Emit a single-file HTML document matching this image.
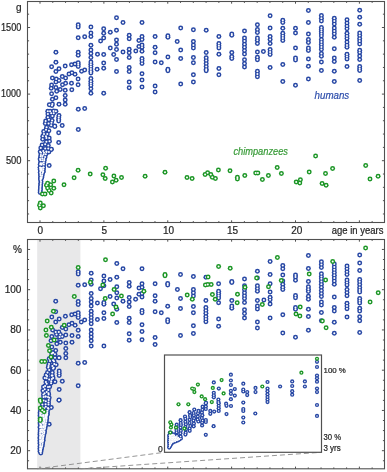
<!DOCTYPE html>
<html><head><meta charset="utf-8"><style>
html,body{margin:0;padding:0;background:#fff;width:387px;height:472px;overflow:hidden}
svg{display:block}
</style></head><body>
<svg width="387" height="472" viewBox="0 0 387 472"><rect x="37.2" y="240" width="43.2" height="228.5" fill="#e8e8e9"/><g fill="none" stroke="#505050" stroke-width="1.1"><rect x="27.5" y="1.5" width="357" height="221"/><rect x="27.5" y="239.5" width="357" height="229.3"/></g><path d="M40.00 222.5v-2.2M40.00 1.5v2.2M40.00 239.5v2.2M40.00 468.8v-2.2M52.77 222.5v-1.4M52.77 1.5v1.4M52.77 239.5v1.4M52.77 468.8v-1.4M65.55 222.5v-1.4M65.55 1.5v1.4M65.55 239.5v1.4M65.55 468.8v-1.4M78.33 222.5v-1.4M78.33 1.5v1.4M78.33 239.5v1.4M78.33 468.8v-1.4M91.10 222.5v-1.4M91.10 1.5v1.4M91.10 239.5v1.4M91.10 468.8v-1.4M103.88 222.5v-2.2M103.88 1.5v2.2M103.88 239.5v2.2M103.88 468.8v-2.2M116.65 222.5v-1.4M116.65 1.5v1.4M116.65 239.5v1.4M116.65 468.8v-1.4M129.43 222.5v-1.4M129.43 1.5v1.4M129.43 239.5v1.4M129.43 468.8v-1.4M142.20 222.5v-1.4M142.20 1.5v1.4M142.20 239.5v1.4M142.20 468.8v-1.4M154.98 222.5v-1.4M154.98 1.5v1.4M154.98 239.5v1.4M154.98 468.8v-1.4M167.75 222.5v-2.2M167.75 1.5v2.2M167.75 239.5v2.2M167.75 468.8v-2.2M180.53 222.5v-1.4M180.53 1.5v1.4M180.53 239.5v1.4M180.53 468.8v-1.4M193.30 222.5v-1.4M193.30 1.5v1.4M193.30 239.5v1.4M193.30 468.8v-1.4M206.08 222.5v-1.4M206.08 1.5v1.4M206.08 239.5v1.4M206.08 468.8v-1.4M218.85 222.5v-1.4M218.85 1.5v1.4M218.85 239.5v1.4M218.85 468.8v-1.4M231.62 222.5v-2.2M231.62 1.5v2.2M231.62 239.5v2.2M231.62 468.8v-2.2M244.40 222.5v-1.4M244.40 1.5v1.4M244.40 239.5v1.4M244.40 468.8v-1.4M257.18 222.5v-1.4M257.18 1.5v1.4M257.18 239.5v1.4M257.18 468.8v-1.4M269.95 222.5v-1.4M269.95 1.5v1.4M269.95 239.5v1.4M269.95 468.8v-1.4M282.73 222.5v-1.4M282.73 1.5v1.4M282.73 239.5v1.4M282.73 468.8v-1.4M295.50 222.5v-2.2M295.50 1.5v2.2M295.50 239.5v2.2M295.50 468.8v-2.2M308.28 222.5v-1.4M308.28 1.5v1.4M308.28 239.5v1.4M308.28 468.8v-1.4M321.05 222.5v-1.4M321.05 1.5v1.4M321.05 239.5v1.4M321.05 468.8v-1.4M333.82 222.5v-1.4M333.82 1.5v1.4M333.82 239.5v1.4M333.82 468.8v-1.4M346.60 222.5v-1.4M346.60 1.5v1.4M346.60 239.5v1.4M346.60 468.8v-1.4M359.38 222.5v-2.2M359.38 1.5v2.2M359.38 239.5v2.2M359.38 468.8v-2.2M372.15 222.5v-1.4M372.15 1.5v1.4M372.15 239.5v1.4M372.15 468.8v-1.4M27.5 213.98h1.6M384.5 213.98h-1.6M27.5 200.66h1.6M384.5 200.66h-1.6M27.5 187.34h1.6M384.5 187.34h-1.6M27.5 174.02h1.6M384.5 174.02h-1.6M27.5 160.70h2.6M384.5 160.70h-2.6M27.5 147.38h1.6M384.5 147.38h-1.6M27.5 134.06h1.6M384.5 134.06h-1.6M27.5 120.74h1.6M384.5 120.74h-1.6M27.5 107.42h1.6M384.5 107.42h-1.6M27.5 94.10h2.6M384.5 94.10h-2.6M27.5 80.78h1.6M384.5 80.78h-1.6M27.5 67.46h1.6M384.5 67.46h-1.6M27.5 54.14h1.6M384.5 54.14h-1.6M27.5 40.82h1.6M384.5 40.82h-1.6M27.5 27.50h2.6M384.5 27.50h-2.6M27.5 14.18h1.6M384.5 14.18h-1.6M27.5 460.76h1.6M384.5 460.76h-1.6M27.5 450.70h2.6M384.5 450.70h-2.6M27.5 440.64h1.6M384.5 440.64h-1.6M27.5 430.57h1.6M384.5 430.57h-1.6M27.5 420.51h1.6M384.5 420.51h-1.6M27.5 410.45h2.6M384.5 410.45h-2.6M27.5 400.39h1.6M384.5 400.39h-1.6M27.5 390.32h1.6M384.5 390.32h-1.6M27.5 380.26h1.6M384.5 380.26h-1.6M27.5 370.20h2.6M384.5 370.20h-2.6M27.5 360.14h1.6M384.5 360.14h-1.6M27.5 350.07h1.6M384.5 350.07h-1.6M27.5 340.01h1.6M384.5 340.01h-1.6M27.5 329.95h2.6M384.5 329.95h-2.6M27.5 319.89h1.6M384.5 319.89h-1.6M27.5 309.82h1.6M384.5 309.82h-1.6M27.5 299.76h1.6M384.5 299.76h-1.6M27.5 289.70h2.6M384.5 289.70h-2.6M27.5 279.64h1.6M384.5 279.64h-1.6M27.5 269.57h1.6M384.5 269.57h-1.6M27.5 259.51h1.6M384.5 259.51h-1.6M27.5 249.45h2.6M384.5 249.45h-2.6" stroke="#505050" stroke-width="1" fill="none"/><path d="M37.2 468.8L164.5 452.3M80.4 468.8L321.5 452.3" stroke="#8a8a8a" stroke-width="0.9" stroke-dasharray="5 3" fill="none"/><rect x="164.5" y="355" width="157" height="97.3" fill="#fff" stroke="#505050" stroke-width="1.2"/><g fill="#2747a4"><circle cx="40.2" cy="192.6" r="2.48"/><circle cx="40.2" cy="191.1" r="2.48"/><circle cx="40.4" cy="189.5" r="2.48"/><circle cx="40.4" cy="188.0" r="2.48"/><circle cx="40.5" cy="186.4" r="2.48"/><circle cx="40.7" cy="184.9" r="2.48"/><circle cx="40.8" cy="183.2" r="2.48"/><circle cx="41.0" cy="181.8" r="2.48"/><circle cx="40.7" cy="180.1" r="2.48"/><circle cx="40.5" cy="179.0" r="2.48"/><circle cx="41.4" cy="178.4" r="2.48"/><circle cx="40.6" cy="177.4" r="2.48"/><circle cx="41.7" cy="177.3" r="2.48"/><circle cx="42.1" cy="175.8" r="2.48"/><circle cx="40.6" cy="175.6" r="2.48"/><circle cx="40.5" cy="174.1" r="2.48"/><circle cx="42.4" cy="173.8" r="2.48"/><circle cx="40.3" cy="172.6" r="2.48"/><circle cx="42.9" cy="172.2" r="2.48"/><circle cx="43.2" cy="171.2" r="2.48"/><circle cx="40.5" cy="170.9" r="2.48"/><circle cx="41.8" cy="170.7" r="2.48"/><circle cx="40.2" cy="169.6" r="2.48"/><circle cx="43.3" cy="169.4" r="2.48"/><circle cx="41.6" cy="169.2" r="2.48"/><circle cx="41.8" cy="167.9" r="2.48"/><circle cx="40.2" cy="167.9" r="2.48"/><circle cx="43.5" cy="167.6" r="2.48"/><circle cx="43.4" cy="167.5" r="2.48"/><circle cx="40.1" cy="167.4" r="2.48"/><circle cx="41.6" cy="164.8" r="2.48"/><circle cx="43.8" cy="164.6" r="2.48"/><circle cx="40.2" cy="164.5" r="2.48"/><circle cx="42.0" cy="163.3" r="2.48"/><circle cx="40.5" cy="163.3" r="2.48"/><circle cx="43.8" cy="162.4" r="2.48"/><circle cx="44.2" cy="160.6" r="2.48"/><circle cx="42.3" cy="160.3" r="2.48"/><circle cx="40.5" cy="160.3" r="2.48"/><circle cx="40.1" cy="158.9" r="2.48"/><circle cx="44.3" cy="158.9" r="2.48"/><circle cx="42.2" cy="158.3" r="2.48"/><circle cx="45.1" cy="157.0" r="2.48"/><circle cx="40.7" cy="156.6" r="2.48"/><circle cx="42.5" cy="156.1" r="2.48"/><circle cx="40.9" cy="154.9" r="2.48"/><circle cx="43.6" cy="154.5" r="2.48"/><circle cx="45.8" cy="154.2" r="2.48"/><circle cx="44.0" cy="152.8" r="2.48"/><circle cx="41.0" cy="152.8" r="2.48"/><circle cx="46.5" cy="152.0" r="2.48"/><circle cx="47.9" cy="113.9" r="2.48"/><circle cx="51.2" cy="113.3" r="2.48"/><circle cx="53.7" cy="113.3" r="2.48"/><circle cx="47.9" cy="117.2" r="2.48"/><circle cx="52.4" cy="115.9" r="2.48"/><circle cx="45.7" cy="121.0" r="2.48"/><circle cx="48.9" cy="119.8" r="2.48"/><circle cx="52.1" cy="120.4" r="2.48"/><circle cx="45.3" cy="123.6" r="2.48"/><circle cx="48.6" cy="123.6" r="2.48"/><circle cx="51.5" cy="122.7" r="2.48"/><circle cx="51.2" cy="125.2" r="2.48"/><circle cx="54.7" cy="125.9" r="2.48"/><circle cx="46.6" cy="127.2" r="2.48"/><circle cx="46.0" cy="129.8" r="2.48"/><circle cx="48.9" cy="130.7" r="2.48"/><circle cx="43.7" cy="131.4" r="2.48"/><circle cx="44.0" cy="134.0" r="2.48"/><circle cx="47.3" cy="134.0" r="2.48"/><circle cx="42.8" cy="136.2" r="2.48"/><circle cx="46.0" cy="136.2" r="2.48"/><circle cx="46.4" cy="138.1" r="2.48"/><circle cx="49.2" cy="138.1" r="2.48"/><circle cx="42.7" cy="139.3" r="2.48"/><circle cx="49.5" cy="141.2" r="2.48"/><circle cx="46.4" cy="141.8" r="2.48"/><circle cx="42.1" cy="144.9" r="2.48"/><circle cx="45.2" cy="144.3" r="2.48"/><circle cx="48.3" cy="145.5" r="2.48"/><circle cx="51.4" cy="149.3" r="2.48"/><circle cx="48.3" cy="148.6" r="2.48"/><circle cx="45.2" cy="148.6" r="2.48"/><circle cx="40.8" cy="148.0" r="2.48"/><circle cx="40.2" cy="151.7" r="2.48"/><circle cx="43.3" cy="151.1" r="2.48"/><circle cx="46.4" cy="151.4" r="2.48"/><circle cx="48.9" cy="152.0" r="2.48"/><circle cx="78.2" cy="24.7" r="2.48"/><circle cx="78.2" cy="27.0" r="2.48"/><circle cx="78.2" cy="37.8" r="2.48"/><circle cx="84.7" cy="36.7" r="2.48"/><circle cx="55.9" cy="52.2" r="2.48"/><circle cx="78.2" cy="52.2" r="2.48"/><circle cx="78.2" cy="55.3" r="2.48"/><circle cx="55.9" cy="62.2" r="2.48"/><circle cx="51.6" cy="66.8" r="2.48"/><circle cx="59.0" cy="68.7" r="2.48"/><circle cx="55.9" cy="71.5" r="2.48"/><circle cx="65.2" cy="66.0" r="2.48"/><circle cx="52.4" cy="78.0" r="2.48"/><circle cx="56.3" cy="79.0" r="2.48"/><circle cx="59.0" cy="80.5" r="2.48"/><circle cx="62.3" cy="76.4" r="2.48"/><circle cx="65.6" cy="78.0" r="2.48"/><circle cx="55.9" cy="81.9" r="2.48"/><circle cx="51.6" cy="85.0" r="2.48"/><circle cx="62.5" cy="84.7" r="2.48"/><circle cx="65.6" cy="83.3" r="2.48"/><circle cx="51.2" cy="88.3" r="2.48"/><circle cx="55.9" cy="87.5" r="2.48"/><circle cx="71.5" cy="64.8" r="2.48"/><circle cx="71.8" cy="89.8" r="2.48"/><circle cx="75.0" cy="64.0" r="2.48"/><circle cx="78.2" cy="62.8" r="2.48"/><circle cx="78.2" cy="64.6" r="2.48"/><circle cx="78.2" cy="66.5" r="2.48"/><circle cx="81.6" cy="71.3" r="2.48"/><circle cx="84.7" cy="70.0" r="2.48"/><circle cx="69.0" cy="73.9" r="2.48"/><circle cx="71.9" cy="72.7" r="2.48"/><circle cx="75.0" cy="74.3" r="2.48"/><circle cx="78.1" cy="78.9" r="2.48"/><circle cx="71.5" cy="83.2" r="2.48"/><circle cx="78.1" cy="84.7" r="2.48"/><circle cx="97.1" cy="69.2" r="2.48"/><circle cx="60.2" cy="89.6" r="2.48"/><circle cx="56.7" cy="91.3" r="2.48"/><circle cx="51.6" cy="93.8" r="2.48"/><circle cx="65.2" cy="90.3" r="2.48"/><circle cx="65.2" cy="95.4" r="2.48"/><circle cx="65.2" cy="100.0" r="2.48"/><circle cx="65.2" cy="104.3" r="2.48"/><circle cx="55.9" cy="97.7" r="2.48"/><circle cx="52.4" cy="99.2" r="2.48"/><circle cx="59.0" cy="104.3" r="2.48"/><circle cx="49.3" cy="104.7" r="2.48"/><circle cx="52.4" cy="103.9" r="2.48"/><circle cx="52.0" cy="105.6" r="2.48"/><circle cx="47.8" cy="111.3" r="2.48"/><circle cx="50.1" cy="111.3" r="2.48"/><circle cx="53.6" cy="110.9" r="2.48"/><circle cx="55.9" cy="111.3" r="2.48"/><circle cx="59.0" cy="115.5" r="2.48"/><circle cx="58.7" cy="117.5" r="2.48"/><circle cx="58.7" cy="119.4" r="2.48"/><circle cx="58.7" cy="121.0" r="2.48"/><circle cx="78.3" cy="109.2" r="2.48"/><circle cx="84.7" cy="108.4" r="2.48"/><circle cx="62.2" cy="125.5" r="2.48"/><circle cx="78.3" cy="129.5" r="2.48"/><circle cx="58.7" cy="132.7" r="2.48"/><circle cx="58.7" cy="142.4" r="2.48"/><circle cx="54.8" cy="126.5" r="2.48"/><circle cx="49.2" cy="165.4" r="2.48"/><circle cx="51.1" cy="149.5" r="2.48"/><circle cx="90.9" cy="27.1" r="2.48"/><circle cx="90.9" cy="32.9" r="2.48"/><circle cx="90.9" cy="36.4" r="2.48"/><circle cx="90.9" cy="45.3" r="2.48"/><circle cx="90.9" cy="49.9" r="2.48"/><circle cx="90.9" cy="53.5" r="2.48"/><circle cx="90.9" cy="57.4" r="2.48"/><circle cx="90.9" cy="61.9" r="2.48"/><circle cx="90.9" cy="64.2" r="2.48"/><circle cx="90.9" cy="66.5" r="2.48"/><circle cx="90.9" cy="68.9" r="2.48"/><circle cx="90.9" cy="71.2" r="2.48"/><circle cx="90.9" cy="73.1" r="2.48"/><circle cx="90.9" cy="78.5" r="2.48"/><circle cx="90.9" cy="81.3" r="2.48"/><circle cx="90.9" cy="83.6" r="2.48"/><circle cx="90.9" cy="85.5" r="2.48"/><circle cx="90.9" cy="88.8" r="2.48"/><circle cx="90.9" cy="93.3" r="2.48"/><circle cx="116.5" cy="17.8" r="2.48"/><circle cx="123.0" cy="22.5" r="2.48"/><circle cx="103.7" cy="28.7" r="2.48"/><circle cx="103.7" cy="33.3" r="2.48"/><circle cx="103.7" cy="38.0" r="2.48"/><circle cx="100.6" cy="41.1" r="2.48"/><circle cx="110.3" cy="32.2" r="2.48"/><circle cx="116.5" cy="30.2" r="2.48"/><circle cx="116.5" cy="40.0" r="2.48"/><circle cx="116.5" cy="44.2" r="2.48"/><circle cx="116.5" cy="49.6" r="2.48"/><circle cx="110.3" cy="48.1" r="2.48"/><circle cx="135.8" cy="50.9" r="2.48"/><circle cx="97.5" cy="54.3" r="2.48"/><circle cx="103.7" cy="54.6" r="2.48"/><circle cx="113.7" cy="54.6" r="2.48"/><circle cx="123.0" cy="51.9" r="2.48"/><circle cx="103.7" cy="63.0" r="2.48"/><circle cx="103.7" cy="68.2" r="2.48"/><circle cx="103.7" cy="93.3" r="2.48"/><circle cx="116.5" cy="59.6" r="2.48"/><circle cx="116.5" cy="71.6" r="2.48"/><circle cx="129.2" cy="35.3" r="2.48"/><circle cx="129.2" cy="38.8" r="2.48"/><circle cx="129.2" cy="49.3" r="2.48"/><circle cx="129.2" cy="52.7" r="2.48"/><circle cx="129.2" cy="57.6" r="2.48"/><circle cx="129.2" cy="67.6" r="2.48"/><circle cx="129.2" cy="71.6" r="2.48"/><circle cx="129.2" cy="82.0" r="2.48"/><circle cx="129.2" cy="87.8" r="2.48"/><circle cx="142.0" cy="22.5" r="2.48"/><circle cx="142.0" cy="36.4" r="2.48"/><circle cx="142.0" cy="39.5" r="2.48"/><circle cx="142.0" cy="45.0" r="2.48"/><circle cx="142.0" cy="47.3" r="2.48"/><circle cx="142.0" cy="51.2" r="2.48"/><circle cx="142.0" cy="58.6" r="2.48"/><circle cx="142.0" cy="60.8" r="2.48"/><circle cx="142.0" cy="63.4" r="2.48"/><circle cx="142.0" cy="73.8" r="2.48"/><circle cx="142.0" cy="80.0" r="2.48"/><circle cx="142.0" cy="87.1" r="2.48"/><circle cx="138.9" cy="40.6" r="2.48"/><circle cx="138.9" cy="46.5" r="2.48"/><circle cx="155.1" cy="36.4" r="2.48"/><circle cx="155.1" cy="47.3" r="2.48"/><circle cx="155.1" cy="52.7" r="2.48"/><circle cx="155.1" cy="62.0" r="2.48"/><circle cx="155.1" cy="86.0" r="2.48"/><circle cx="155.1" cy="91.9" r="2.48"/><circle cx="161.3" cy="62.8" r="2.48"/><circle cx="177.2" cy="41.6" r="2.48"/><circle cx="167.9" cy="35.7" r="2.48"/><circle cx="167.9" cy="37.2" r="2.48"/><circle cx="167.9" cy="57.1" r="2.48"/><circle cx="167.9" cy="69.3" r="2.48"/><circle cx="167.9" cy="70.8" r="2.48"/><circle cx="180.7" cy="27.9" r="2.48"/><circle cx="180.7" cy="50.1" r="2.48"/><circle cx="180.7" cy="58.6" r="2.48"/><circle cx="180.7" cy="84.1" r="2.48"/><circle cx="193.4" cy="29.8" r="2.48"/><circle cx="193.4" cy="41.6" r="2.48"/><circle cx="193.4" cy="45.0" r="2.48"/><circle cx="193.4" cy="48.1" r="2.48"/><circle cx="193.4" cy="57.4" r="2.48"/><circle cx="193.4" cy="62.8" r="2.48"/><circle cx="193.4" cy="74.8" r="2.48"/><circle cx="193.4" cy="82.1" r="2.48"/><circle cx="206.2" cy="30.2" r="2.48"/><circle cx="206.2" cy="52.4" r="2.48"/><circle cx="206.2" cy="57.8" r="2.48"/><circle cx="206.2" cy="60.4" r="2.48"/><circle cx="206.2" cy="63.5" r="2.48"/><circle cx="206.2" cy="66.6" r="2.48"/><circle cx="206.2" cy="69.3" r="2.48"/><circle cx="206.2" cy="70.8" r="2.48"/><circle cx="218.9" cy="36.4" r="2.48"/><circle cx="218.9" cy="43.4" r="2.48"/><circle cx="218.9" cy="45.7" r="2.48"/><circle cx="218.9" cy="48.1" r="2.48"/><circle cx="218.9" cy="54.3" r="2.48"/><circle cx="218.9" cy="68.6" r="2.48"/><circle cx="218.9" cy="74.8" r="2.48"/><circle cx="231.8" cy="34.1" r="2.48"/><circle cx="231.8" cy="35.3" r="2.48"/><circle cx="231.8" cy="52.4" r="2.48"/><circle cx="231.8" cy="56.6" r="2.48"/><circle cx="231.8" cy="58.6" r="2.48"/><circle cx="244.5" cy="31.0" r="2.48"/><circle cx="244.5" cy="38.0" r="2.48"/><circle cx="244.5" cy="41.1" r="2.48"/><circle cx="244.5" cy="44.2" r="2.48"/><circle cx="244.5" cy="47.3" r="2.48"/><circle cx="244.5" cy="50.4" r="2.48"/><circle cx="244.5" cy="54.0" r="2.48"/><circle cx="244.5" cy="59.8" r="2.48"/><circle cx="244.5" cy="63.5" r="2.48"/><circle cx="244.5" cy="67.1" r="2.48"/><circle cx="257.4" cy="24.8" r="2.48"/><circle cx="257.4" cy="29.5" r="2.48"/><circle cx="257.4" cy="32.6" r="2.48"/><circle cx="257.4" cy="38.0" r="2.48"/><circle cx="257.4" cy="40.3" r="2.48"/><circle cx="257.4" cy="43.4" r="2.48"/><circle cx="257.4" cy="51.9" r="2.48"/><circle cx="257.4" cy="57.3" r="2.48"/><circle cx="257.4" cy="59.7" r="2.48"/><circle cx="257.4" cy="71.3" r="2.48"/><circle cx="257.4" cy="73.9" r="2.48"/><circle cx="257.4" cy="76.7" r="2.48"/><circle cx="263.4" cy="51.5" r="2.48"/><circle cx="270.1" cy="15.8" r="2.48"/><circle cx="270.1" cy="27.9" r="2.48"/><circle cx="270.1" cy="36.4" r="2.48"/><circle cx="270.1" cy="39.5" r="2.48"/><circle cx="270.1" cy="43.4" r="2.48"/><circle cx="270.1" cy="49.6" r="2.48"/><circle cx="270.1" cy="51.9" r="2.48"/><circle cx="270.1" cy="54.6" r="2.48"/><circle cx="270.1" cy="67.4" r="2.48"/><circle cx="282.8" cy="20.2" r="2.48"/><circle cx="282.8" cy="22.5" r="2.48"/><circle cx="282.8" cy="28.2" r="2.48"/><circle cx="282.8" cy="33.3" r="2.48"/><circle cx="282.8" cy="35.7" r="2.48"/><circle cx="282.8" cy="38.0" r="2.48"/><circle cx="282.8" cy="40.6" r="2.48"/><circle cx="282.8" cy="64.6" r="2.48"/><circle cx="282.8" cy="81.4" r="2.48"/><circle cx="295.5" cy="28.2" r="2.48"/><circle cx="295.5" cy="32.9" r="2.48"/><circle cx="295.5" cy="48.1" r="2.48"/><circle cx="295.5" cy="58.1" r="2.48"/><circle cx="295.5" cy="60.0" r="2.48"/><circle cx="295.5" cy="85.2" r="2.48"/><circle cx="308.4" cy="10.5" r="2.48"/><circle cx="308.4" cy="22.5" r="2.48"/><circle cx="308.4" cy="34.1" r="2.48"/><circle cx="308.4" cy="39.5" r="2.48"/><circle cx="308.4" cy="42.6" r="2.48"/><circle cx="308.4" cy="48.1" r="2.48"/><circle cx="308.4" cy="50.4" r="2.48"/><circle cx="308.4" cy="58.9" r="2.48"/><circle cx="308.4" cy="66.2" r="2.48"/><circle cx="308.4" cy="79.0" r="2.48"/><circle cx="321.4" cy="15.5" r="2.48"/><circle cx="321.4" cy="18.3" r="2.48"/><circle cx="321.4" cy="20.9" r="2.48"/><circle cx="321.4" cy="27.6" r="2.48"/><circle cx="321.4" cy="29.5" r="2.48"/><circle cx="321.4" cy="31.6" r="2.48"/><circle cx="321.4" cy="33.8" r="2.48"/><circle cx="321.4" cy="36.0" r="2.48"/><circle cx="321.4" cy="39.5" r="2.48"/><circle cx="321.4" cy="42.0" r="2.48"/><circle cx="321.4" cy="44.5" r="2.48"/><circle cx="321.4" cy="47.0" r="2.48"/><circle cx="321.4" cy="49.5" r="2.48"/><circle cx="321.4" cy="53.5" r="2.48"/><circle cx="321.4" cy="56.3" r="2.48"/><circle cx="321.4" cy="62.0" r="2.48"/><circle cx="321.4" cy="70.5" r="2.48"/><circle cx="334.3" cy="18.3" r="2.48"/><circle cx="334.3" cy="20.9" r="2.48"/><circle cx="334.3" cy="24.0" r="2.48"/><circle cx="334.3" cy="27.9" r="2.48"/><circle cx="334.3" cy="31.0" r="2.48"/><circle cx="334.3" cy="33.8" r="2.48"/><circle cx="334.3" cy="37.2" r="2.48"/><circle cx="334.3" cy="48.8" r="2.48"/><circle cx="334.3" cy="58.1" r="2.48"/><circle cx="334.3" cy="61.5" r="2.48"/><circle cx="334.3" cy="71.3" r="2.48"/><circle cx="334.3" cy="81.4" r="2.48"/><circle cx="347.0" cy="19.8" r="2.48"/><circle cx="347.0" cy="22.9" r="2.48"/><circle cx="347.0" cy="26.0" r="2.48"/><circle cx="347.0" cy="28.7" r="2.48"/><circle cx="347.0" cy="33.3" r="2.48"/><circle cx="347.0" cy="36.0" r="2.48"/><circle cx="347.0" cy="38.4" r="2.48"/><circle cx="347.0" cy="41.9" r="2.48"/><circle cx="347.0" cy="45.0" r="2.48"/><circle cx="347.0" cy="47.3" r="2.48"/><circle cx="347.0" cy="54.3" r="2.48"/><circle cx="347.0" cy="56.6" r="2.48"/><circle cx="347.0" cy="58.9" r="2.48"/><circle cx="347.0" cy="66.6" r="2.48"/><circle cx="359.7" cy="10.2" r="2.48"/><circle cx="359.7" cy="17.3" r="2.48"/><circle cx="359.7" cy="24.2" r="2.48"/><circle cx="359.7" cy="33.0" r="2.48"/><circle cx="359.7" cy="35.5" r="2.48"/><circle cx="359.7" cy="38.5" r="2.48"/><circle cx="359.7" cy="41.0" r="2.48"/><circle cx="359.7" cy="44.0" r="2.48"/><circle cx="359.7" cy="50.2" r="2.48"/><circle cx="359.7" cy="52.6" r="2.48"/><circle cx="359.7" cy="55.9" r="2.48"/><circle cx="359.7" cy="59.4" r="2.48"/><circle cx="359.7" cy="66.5" r="2.48"/><circle cx="359.7" cy="68.8" r="2.48"/><circle cx="359.7" cy="70.6" r="2.48"/><circle cx="359.7" cy="80.4" r="2.48"/></g><g fill="#fff"><circle cx="40.2" cy="192.6" r="1.02"/><circle cx="40.2" cy="191.1" r="1.02"/><circle cx="40.4" cy="189.5" r="1.02"/><circle cx="40.4" cy="188.0" r="1.02"/><circle cx="40.5" cy="186.4" r="1.02"/><circle cx="40.7" cy="184.9" r="1.02"/><circle cx="40.8" cy="183.2" r="1.02"/><circle cx="41.0" cy="181.8" r="1.02"/><circle cx="40.7" cy="180.1" r="1.02"/><circle cx="40.5" cy="179.0" r="1.02"/><circle cx="41.4" cy="178.4" r="1.02"/><circle cx="40.6" cy="177.4" r="1.02"/><circle cx="41.7" cy="177.3" r="1.02"/><circle cx="42.1" cy="175.8" r="1.02"/><circle cx="40.6" cy="175.6" r="1.02"/><circle cx="40.5" cy="174.1" r="1.02"/><circle cx="42.4" cy="173.8" r="1.02"/><circle cx="40.3" cy="172.6" r="1.02"/><circle cx="42.9" cy="172.2" r="1.02"/><circle cx="43.2" cy="171.2" r="1.02"/><circle cx="40.5" cy="170.9" r="1.02"/><circle cx="41.8" cy="170.7" r="1.02"/><circle cx="40.2" cy="169.6" r="1.02"/><circle cx="43.3" cy="169.4" r="1.02"/><circle cx="41.6" cy="169.2" r="1.02"/><circle cx="41.8" cy="167.9" r="1.02"/><circle cx="40.2" cy="167.9" r="1.02"/><circle cx="43.5" cy="167.6" r="1.02"/><circle cx="43.4" cy="167.5" r="1.02"/><circle cx="40.1" cy="167.4" r="1.02"/><circle cx="41.6" cy="164.8" r="1.02"/><circle cx="43.8" cy="164.6" r="1.02"/><circle cx="40.2" cy="164.5" r="1.02"/><circle cx="42.0" cy="163.3" r="1.02"/><circle cx="40.5" cy="163.3" r="1.02"/><circle cx="43.8" cy="162.4" r="1.02"/><circle cx="44.2" cy="160.6" r="1.02"/><circle cx="42.3" cy="160.3" r="1.02"/><circle cx="40.5" cy="160.3" r="1.02"/><circle cx="40.1" cy="158.9" r="1.02"/><circle cx="44.3" cy="158.9" r="1.02"/><circle cx="42.2" cy="158.3" r="1.02"/><circle cx="45.1" cy="157.0" r="1.02"/><circle cx="40.7" cy="156.6" r="1.02"/><circle cx="42.5" cy="156.1" r="1.02"/><circle cx="40.9" cy="154.9" r="1.02"/><circle cx="43.6" cy="154.5" r="1.02"/><circle cx="45.8" cy="154.2" r="1.02"/><circle cx="44.0" cy="152.8" r="1.02"/><circle cx="41.0" cy="152.8" r="1.02"/><circle cx="46.5" cy="152.0" r="1.02"/><circle cx="47.9" cy="113.9" r="1.02"/><circle cx="51.2" cy="113.3" r="1.02"/><circle cx="53.7" cy="113.3" r="1.02"/><circle cx="47.9" cy="117.2" r="1.02"/><circle cx="52.4" cy="115.9" r="1.02"/><circle cx="45.7" cy="121.0" r="1.02"/><circle cx="48.9" cy="119.8" r="1.02"/><circle cx="52.1" cy="120.4" r="1.02"/><circle cx="45.3" cy="123.6" r="1.02"/><circle cx="48.6" cy="123.6" r="1.02"/><circle cx="51.5" cy="122.7" r="1.02"/><circle cx="51.2" cy="125.2" r="1.02"/><circle cx="54.7" cy="125.9" r="1.02"/><circle cx="46.6" cy="127.2" r="1.02"/><circle cx="46.0" cy="129.8" r="1.02"/><circle cx="48.9" cy="130.7" r="1.02"/><circle cx="43.7" cy="131.4" r="1.02"/><circle cx="44.0" cy="134.0" r="1.02"/><circle cx="47.3" cy="134.0" r="1.02"/><circle cx="42.8" cy="136.2" r="1.02"/><circle cx="46.0" cy="136.2" r="1.02"/><circle cx="46.4" cy="138.1" r="1.02"/><circle cx="49.2" cy="138.1" r="1.02"/><circle cx="42.7" cy="139.3" r="1.02"/><circle cx="49.5" cy="141.2" r="1.02"/><circle cx="46.4" cy="141.8" r="1.02"/><circle cx="42.1" cy="144.9" r="1.02"/><circle cx="45.2" cy="144.3" r="1.02"/><circle cx="48.3" cy="145.5" r="1.02"/><circle cx="51.4" cy="149.3" r="1.02"/><circle cx="48.3" cy="148.6" r="1.02"/><circle cx="45.2" cy="148.6" r="1.02"/><circle cx="40.8" cy="148.0" r="1.02"/><circle cx="40.2" cy="151.7" r="1.02"/><circle cx="43.3" cy="151.1" r="1.02"/><circle cx="46.4" cy="151.4" r="1.02"/><circle cx="48.9" cy="152.0" r="1.02"/><circle cx="78.2" cy="24.7" r="1.02"/><circle cx="78.2" cy="27.0" r="1.02"/><circle cx="78.2" cy="37.8" r="1.02"/><circle cx="84.7" cy="36.7" r="1.02"/><circle cx="55.9" cy="52.2" r="1.02"/><circle cx="78.2" cy="52.2" r="1.02"/><circle cx="78.2" cy="55.3" r="1.02"/><circle cx="55.9" cy="62.2" r="1.02"/><circle cx="51.6" cy="66.8" r="1.02"/><circle cx="59.0" cy="68.7" r="1.02"/><circle cx="55.9" cy="71.5" r="1.02"/><circle cx="65.2" cy="66.0" r="1.02"/><circle cx="52.4" cy="78.0" r="1.02"/><circle cx="56.3" cy="79.0" r="1.02"/><circle cx="59.0" cy="80.5" r="1.02"/><circle cx="62.3" cy="76.4" r="1.02"/><circle cx="65.6" cy="78.0" r="1.02"/><circle cx="55.9" cy="81.9" r="1.02"/><circle cx="51.6" cy="85.0" r="1.02"/><circle cx="62.5" cy="84.7" r="1.02"/><circle cx="65.6" cy="83.3" r="1.02"/><circle cx="51.2" cy="88.3" r="1.02"/><circle cx="55.9" cy="87.5" r="1.02"/><circle cx="71.5" cy="64.8" r="1.02"/><circle cx="71.8" cy="89.8" r="1.02"/><circle cx="75.0" cy="64.0" r="1.02"/><circle cx="78.2" cy="62.8" r="1.02"/><circle cx="78.2" cy="64.6" r="1.02"/><circle cx="78.2" cy="66.5" r="1.02"/><circle cx="81.6" cy="71.3" r="1.02"/><circle cx="84.7" cy="70.0" r="1.02"/><circle cx="69.0" cy="73.9" r="1.02"/><circle cx="71.9" cy="72.7" r="1.02"/><circle cx="75.0" cy="74.3" r="1.02"/><circle cx="78.1" cy="78.9" r="1.02"/><circle cx="71.5" cy="83.2" r="1.02"/><circle cx="78.1" cy="84.7" r="1.02"/><circle cx="97.1" cy="69.2" r="1.02"/><circle cx="60.2" cy="89.6" r="1.02"/><circle cx="56.7" cy="91.3" r="1.02"/><circle cx="51.6" cy="93.8" r="1.02"/><circle cx="65.2" cy="90.3" r="1.02"/><circle cx="65.2" cy="95.4" r="1.02"/><circle cx="65.2" cy="100.0" r="1.02"/><circle cx="65.2" cy="104.3" r="1.02"/><circle cx="55.9" cy="97.7" r="1.02"/><circle cx="52.4" cy="99.2" r="1.02"/><circle cx="59.0" cy="104.3" r="1.02"/><circle cx="49.3" cy="104.7" r="1.02"/><circle cx="52.4" cy="103.9" r="1.02"/><circle cx="52.0" cy="105.6" r="1.02"/><circle cx="47.8" cy="111.3" r="1.02"/><circle cx="50.1" cy="111.3" r="1.02"/><circle cx="53.6" cy="110.9" r="1.02"/><circle cx="55.9" cy="111.3" r="1.02"/><circle cx="59.0" cy="115.5" r="1.02"/><circle cx="58.7" cy="117.5" r="1.02"/><circle cx="58.7" cy="119.4" r="1.02"/><circle cx="58.7" cy="121.0" r="1.02"/><circle cx="78.3" cy="109.2" r="1.02"/><circle cx="84.7" cy="108.4" r="1.02"/><circle cx="62.2" cy="125.5" r="1.02"/><circle cx="78.3" cy="129.5" r="1.02"/><circle cx="58.7" cy="132.7" r="1.02"/><circle cx="58.7" cy="142.4" r="1.02"/><circle cx="54.8" cy="126.5" r="1.02"/><circle cx="49.2" cy="165.4" r="1.02"/><circle cx="51.1" cy="149.5" r="1.02"/><circle cx="90.9" cy="27.1" r="1.02"/><circle cx="90.9" cy="32.9" r="1.02"/><circle cx="90.9" cy="36.4" r="1.02"/><circle cx="90.9" cy="45.3" r="1.02"/><circle cx="90.9" cy="49.9" r="1.02"/><circle cx="90.9" cy="53.5" r="1.02"/><circle cx="90.9" cy="57.4" r="1.02"/><circle cx="90.9" cy="61.9" r="1.02"/><circle cx="90.9" cy="64.2" r="1.02"/><circle cx="90.9" cy="66.5" r="1.02"/><circle cx="90.9" cy="68.9" r="1.02"/><circle cx="90.9" cy="71.2" r="1.02"/><circle cx="90.9" cy="73.1" r="1.02"/><circle cx="90.9" cy="78.5" r="1.02"/><circle cx="90.9" cy="81.3" r="1.02"/><circle cx="90.9" cy="83.6" r="1.02"/><circle cx="90.9" cy="85.5" r="1.02"/><circle cx="90.9" cy="88.8" r="1.02"/><circle cx="90.9" cy="93.3" r="1.02"/><circle cx="116.5" cy="17.8" r="1.02"/><circle cx="123.0" cy="22.5" r="1.02"/><circle cx="103.7" cy="28.7" r="1.02"/><circle cx="103.7" cy="33.3" r="1.02"/><circle cx="103.7" cy="38.0" r="1.02"/><circle cx="100.6" cy="41.1" r="1.02"/><circle cx="110.3" cy="32.2" r="1.02"/><circle cx="116.5" cy="30.2" r="1.02"/><circle cx="116.5" cy="40.0" r="1.02"/><circle cx="116.5" cy="44.2" r="1.02"/><circle cx="116.5" cy="49.6" r="1.02"/><circle cx="110.3" cy="48.1" r="1.02"/><circle cx="135.8" cy="50.9" r="1.02"/><circle cx="97.5" cy="54.3" r="1.02"/><circle cx="103.7" cy="54.6" r="1.02"/><circle cx="113.7" cy="54.6" r="1.02"/><circle cx="123.0" cy="51.9" r="1.02"/><circle cx="103.7" cy="63.0" r="1.02"/><circle cx="103.7" cy="68.2" r="1.02"/><circle cx="103.7" cy="93.3" r="1.02"/><circle cx="116.5" cy="59.6" r="1.02"/><circle cx="116.5" cy="71.6" r="1.02"/><circle cx="129.2" cy="35.3" r="1.02"/><circle cx="129.2" cy="38.8" r="1.02"/><circle cx="129.2" cy="49.3" r="1.02"/><circle cx="129.2" cy="52.7" r="1.02"/><circle cx="129.2" cy="57.6" r="1.02"/><circle cx="129.2" cy="67.6" r="1.02"/><circle cx="129.2" cy="71.6" r="1.02"/><circle cx="129.2" cy="82.0" r="1.02"/><circle cx="129.2" cy="87.8" r="1.02"/><circle cx="142.0" cy="22.5" r="1.02"/><circle cx="142.0" cy="36.4" r="1.02"/><circle cx="142.0" cy="39.5" r="1.02"/><circle cx="142.0" cy="45.0" r="1.02"/><circle cx="142.0" cy="47.3" r="1.02"/><circle cx="142.0" cy="51.2" r="1.02"/><circle cx="142.0" cy="58.6" r="1.02"/><circle cx="142.0" cy="60.8" r="1.02"/><circle cx="142.0" cy="63.4" r="1.02"/><circle cx="142.0" cy="73.8" r="1.02"/><circle cx="142.0" cy="80.0" r="1.02"/><circle cx="142.0" cy="87.1" r="1.02"/><circle cx="138.9" cy="40.6" r="1.02"/><circle cx="138.9" cy="46.5" r="1.02"/><circle cx="155.1" cy="36.4" r="1.02"/><circle cx="155.1" cy="47.3" r="1.02"/><circle cx="155.1" cy="52.7" r="1.02"/><circle cx="155.1" cy="62.0" r="1.02"/><circle cx="155.1" cy="86.0" r="1.02"/><circle cx="155.1" cy="91.9" r="1.02"/><circle cx="161.3" cy="62.8" r="1.02"/><circle cx="177.2" cy="41.6" r="1.02"/><circle cx="167.9" cy="35.7" r="1.02"/><circle cx="167.9" cy="37.2" r="1.02"/><circle cx="167.9" cy="57.1" r="1.02"/><circle cx="167.9" cy="69.3" r="1.02"/><circle cx="167.9" cy="70.8" r="1.02"/><circle cx="180.7" cy="27.9" r="1.02"/><circle cx="180.7" cy="50.1" r="1.02"/><circle cx="180.7" cy="58.6" r="1.02"/><circle cx="180.7" cy="84.1" r="1.02"/><circle cx="193.4" cy="29.8" r="1.02"/><circle cx="193.4" cy="41.6" r="1.02"/><circle cx="193.4" cy="45.0" r="1.02"/><circle cx="193.4" cy="48.1" r="1.02"/><circle cx="193.4" cy="57.4" r="1.02"/><circle cx="193.4" cy="62.8" r="1.02"/><circle cx="193.4" cy="74.8" r="1.02"/><circle cx="193.4" cy="82.1" r="1.02"/><circle cx="206.2" cy="30.2" r="1.02"/><circle cx="206.2" cy="52.4" r="1.02"/><circle cx="206.2" cy="57.8" r="1.02"/><circle cx="206.2" cy="60.4" r="1.02"/><circle cx="206.2" cy="63.5" r="1.02"/><circle cx="206.2" cy="66.6" r="1.02"/><circle cx="206.2" cy="69.3" r="1.02"/><circle cx="206.2" cy="70.8" r="1.02"/><circle cx="218.9" cy="36.4" r="1.02"/><circle cx="218.9" cy="43.4" r="1.02"/><circle cx="218.9" cy="45.7" r="1.02"/><circle cx="218.9" cy="48.1" r="1.02"/><circle cx="218.9" cy="54.3" r="1.02"/><circle cx="218.9" cy="68.6" r="1.02"/><circle cx="218.9" cy="74.8" r="1.02"/><circle cx="231.8" cy="34.1" r="1.02"/><circle cx="231.8" cy="35.3" r="1.02"/><circle cx="231.8" cy="52.4" r="1.02"/><circle cx="231.8" cy="56.6" r="1.02"/><circle cx="231.8" cy="58.6" r="1.02"/><circle cx="244.5" cy="31.0" r="1.02"/><circle cx="244.5" cy="38.0" r="1.02"/><circle cx="244.5" cy="41.1" r="1.02"/><circle cx="244.5" cy="44.2" r="1.02"/><circle cx="244.5" cy="47.3" r="1.02"/><circle cx="244.5" cy="50.4" r="1.02"/><circle cx="244.5" cy="54.0" r="1.02"/><circle cx="244.5" cy="59.8" r="1.02"/><circle cx="244.5" cy="63.5" r="1.02"/><circle cx="244.5" cy="67.1" r="1.02"/><circle cx="257.4" cy="24.8" r="1.02"/><circle cx="257.4" cy="29.5" r="1.02"/><circle cx="257.4" cy="32.6" r="1.02"/><circle cx="257.4" cy="38.0" r="1.02"/><circle cx="257.4" cy="40.3" r="1.02"/><circle cx="257.4" cy="43.4" r="1.02"/><circle cx="257.4" cy="51.9" r="1.02"/><circle cx="257.4" cy="57.3" r="1.02"/><circle cx="257.4" cy="59.7" r="1.02"/><circle cx="257.4" cy="71.3" r="1.02"/><circle cx="257.4" cy="73.9" r="1.02"/><circle cx="257.4" cy="76.7" r="1.02"/><circle cx="263.4" cy="51.5" r="1.02"/><circle cx="270.1" cy="15.8" r="1.02"/><circle cx="270.1" cy="27.9" r="1.02"/><circle cx="270.1" cy="36.4" r="1.02"/><circle cx="270.1" cy="39.5" r="1.02"/><circle cx="270.1" cy="43.4" r="1.02"/><circle cx="270.1" cy="49.6" r="1.02"/><circle cx="270.1" cy="51.9" r="1.02"/><circle cx="270.1" cy="54.6" r="1.02"/><circle cx="270.1" cy="67.4" r="1.02"/><circle cx="282.8" cy="20.2" r="1.02"/><circle cx="282.8" cy="22.5" r="1.02"/><circle cx="282.8" cy="28.2" r="1.02"/><circle cx="282.8" cy="33.3" r="1.02"/><circle cx="282.8" cy="35.7" r="1.02"/><circle cx="282.8" cy="38.0" r="1.02"/><circle cx="282.8" cy="40.6" r="1.02"/><circle cx="282.8" cy="64.6" r="1.02"/><circle cx="282.8" cy="81.4" r="1.02"/><circle cx="295.5" cy="28.2" r="1.02"/><circle cx="295.5" cy="32.9" r="1.02"/><circle cx="295.5" cy="48.1" r="1.02"/><circle cx="295.5" cy="58.1" r="1.02"/><circle cx="295.5" cy="60.0" r="1.02"/><circle cx="295.5" cy="85.2" r="1.02"/><circle cx="308.4" cy="10.5" r="1.02"/><circle cx="308.4" cy="22.5" r="1.02"/><circle cx="308.4" cy="34.1" r="1.02"/><circle cx="308.4" cy="39.5" r="1.02"/><circle cx="308.4" cy="42.6" r="1.02"/><circle cx="308.4" cy="48.1" r="1.02"/><circle cx="308.4" cy="50.4" r="1.02"/><circle cx="308.4" cy="58.9" r="1.02"/><circle cx="308.4" cy="66.2" r="1.02"/><circle cx="308.4" cy="79.0" r="1.02"/><circle cx="321.4" cy="15.5" r="1.02"/><circle cx="321.4" cy="18.3" r="1.02"/><circle cx="321.4" cy="20.9" r="1.02"/><circle cx="321.4" cy="27.6" r="1.02"/><circle cx="321.4" cy="29.5" r="1.02"/><circle cx="321.4" cy="31.6" r="1.02"/><circle cx="321.4" cy="33.8" r="1.02"/><circle cx="321.4" cy="36.0" r="1.02"/><circle cx="321.4" cy="39.5" r="1.02"/><circle cx="321.4" cy="42.0" r="1.02"/><circle cx="321.4" cy="44.5" r="1.02"/><circle cx="321.4" cy="47.0" r="1.02"/><circle cx="321.4" cy="49.5" r="1.02"/><circle cx="321.4" cy="53.5" r="1.02"/><circle cx="321.4" cy="56.3" r="1.02"/><circle cx="321.4" cy="62.0" r="1.02"/><circle cx="321.4" cy="70.5" r="1.02"/><circle cx="334.3" cy="18.3" r="1.02"/><circle cx="334.3" cy="20.9" r="1.02"/><circle cx="334.3" cy="24.0" r="1.02"/><circle cx="334.3" cy="27.9" r="1.02"/><circle cx="334.3" cy="31.0" r="1.02"/><circle cx="334.3" cy="33.8" r="1.02"/><circle cx="334.3" cy="37.2" r="1.02"/><circle cx="334.3" cy="48.8" r="1.02"/><circle cx="334.3" cy="58.1" r="1.02"/><circle cx="334.3" cy="61.5" r="1.02"/><circle cx="334.3" cy="71.3" r="1.02"/><circle cx="334.3" cy="81.4" r="1.02"/><circle cx="347.0" cy="19.8" r="1.02"/><circle cx="347.0" cy="22.9" r="1.02"/><circle cx="347.0" cy="26.0" r="1.02"/><circle cx="347.0" cy="28.7" r="1.02"/><circle cx="347.0" cy="33.3" r="1.02"/><circle cx="347.0" cy="36.0" r="1.02"/><circle cx="347.0" cy="38.4" r="1.02"/><circle cx="347.0" cy="41.9" r="1.02"/><circle cx="347.0" cy="45.0" r="1.02"/><circle cx="347.0" cy="47.3" r="1.02"/><circle cx="347.0" cy="54.3" r="1.02"/><circle cx="347.0" cy="56.6" r="1.02"/><circle cx="347.0" cy="58.9" r="1.02"/><circle cx="347.0" cy="66.6" r="1.02"/><circle cx="359.7" cy="10.2" r="1.02"/><circle cx="359.7" cy="17.3" r="1.02"/><circle cx="359.7" cy="24.2" r="1.02"/><circle cx="359.7" cy="33.0" r="1.02"/><circle cx="359.7" cy="35.5" r="1.02"/><circle cx="359.7" cy="38.5" r="1.02"/><circle cx="359.7" cy="41.0" r="1.02"/><circle cx="359.7" cy="44.0" r="1.02"/><circle cx="359.7" cy="50.2" r="1.02"/><circle cx="359.7" cy="52.6" r="1.02"/><circle cx="359.7" cy="55.9" r="1.02"/><circle cx="359.7" cy="59.4" r="1.02"/><circle cx="359.7" cy="66.5" r="1.02"/><circle cx="359.7" cy="68.8" r="1.02"/><circle cx="359.7" cy="70.6" r="1.02"/><circle cx="359.7" cy="80.4" r="1.02"/></g><g fill="#1c9626"><circle cx="64.0" cy="184.8" r="2.48"/><circle cx="74.1" cy="177.7" r="2.48"/><circle cx="78.1" cy="170.3" r="2.48"/><circle cx="90.2" cy="174.1" r="2.48"/><circle cx="105.6" cy="168.3" r="2.48"/><circle cx="102.9" cy="174.8" r="2.48"/><circle cx="105.2" cy="178.4" r="2.48"/><circle cx="113.9" cy="175.9" r="2.48"/><circle cx="116.1" cy="180.3" r="2.48"/><circle cx="112.4" cy="182.1" r="2.48"/><circle cx="121.5" cy="177.5" r="2.48"/><circle cx="145.1" cy="176.3" r="2.48"/><circle cx="165.0" cy="172.3" r="2.48"/><circle cx="187.0" cy="177.4" r="2.48"/><circle cx="192.1" cy="178.4" r="2.48"/><circle cx="205.1" cy="174.5" r="2.48"/><circle cx="207.6" cy="172.7" r="2.48"/><circle cx="210.8" cy="174.5" r="2.48"/><circle cx="212.3" cy="177.2" r="2.48"/><circle cx="215.4" cy="178.6" r="2.48"/><circle cx="218.4" cy="170.0" r="2.48"/><circle cx="230.0" cy="170.8" r="2.48"/><circle cx="237.4" cy="177.2" r="2.48"/><circle cx="237.4" cy="179.0" r="2.48"/><circle cx="244.8" cy="175.4" r="2.48"/><circle cx="255.7" cy="173.0" r="2.48"/><circle cx="257.9" cy="173.0" r="2.48"/><circle cx="262.4" cy="179.5" r="2.48"/><circle cx="268.4" cy="175.4" r="2.48"/><circle cx="277.2" cy="167.5" r="2.48"/><circle cx="281.4" cy="173.5" r="2.48"/><circle cx="296.2" cy="182.0" r="2.48"/><circle cx="300.4" cy="179.8" r="2.48"/><circle cx="299.8" cy="182.9" r="2.48"/><circle cx="309.2" cy="172.1" r="2.48"/><circle cx="315.6" cy="156.1" r="2.48"/><circle cx="322.1" cy="183.5" r="2.48"/><circle cx="326.1" cy="185.3" r="2.48"/><circle cx="325.5" cy="173.5" r="2.48"/><circle cx="332.6" cy="168.6" r="2.48"/><circle cx="365.7" cy="165.4" r="2.48"/><circle cx="370.0" cy="178.9" r="2.48"/><circle cx="378.1" cy="176.3" r="2.48"/><circle cx="53.8" cy="181.0" r="2.48"/><circle cx="47.6" cy="183.3" r="2.48"/><circle cx="50.7" cy="184.8" r="2.48"/><circle cx="46.5" cy="185.3" r="2.48"/><circle cx="47.6" cy="187.9" r="2.48"/><circle cx="49.1" cy="190.5" r="2.48"/><circle cx="51.2" cy="193.1" r="2.48"/><circle cx="53.8" cy="188.2" r="2.48"/><circle cx="42.4" cy="194.1" r="2.48"/><circle cx="45.0" cy="194.1" r="2.48"/><circle cx="40.3" cy="202.9" r="2.48"/><circle cx="43.4" cy="205.8" r="2.48"/><circle cx="40.3" cy="208.1" r="2.48"/><circle cx="39.6" cy="205.2" r="2.48"/></g><g fill="#fff"><circle cx="64.0" cy="184.8" r="1.02"/><circle cx="74.1" cy="177.7" r="1.02"/><circle cx="78.1" cy="170.3" r="1.02"/><circle cx="90.2" cy="174.1" r="1.02"/><circle cx="105.6" cy="168.3" r="1.02"/><circle cx="102.9" cy="174.8" r="1.02"/><circle cx="105.2" cy="178.4" r="1.02"/><circle cx="113.9" cy="175.9" r="1.02"/><circle cx="116.1" cy="180.3" r="1.02"/><circle cx="112.4" cy="182.1" r="1.02"/><circle cx="121.5" cy="177.5" r="1.02"/><circle cx="145.1" cy="176.3" r="1.02"/><circle cx="165.0" cy="172.3" r="1.02"/><circle cx="187.0" cy="177.4" r="1.02"/><circle cx="192.1" cy="178.4" r="1.02"/><circle cx="205.1" cy="174.5" r="1.02"/><circle cx="207.6" cy="172.7" r="1.02"/><circle cx="210.8" cy="174.5" r="1.02"/><circle cx="212.3" cy="177.2" r="1.02"/><circle cx="215.4" cy="178.6" r="1.02"/><circle cx="218.4" cy="170.0" r="1.02"/><circle cx="230.0" cy="170.8" r="1.02"/><circle cx="237.4" cy="177.2" r="1.02"/><circle cx="237.4" cy="179.0" r="1.02"/><circle cx="244.8" cy="175.4" r="1.02"/><circle cx="255.7" cy="173.0" r="1.02"/><circle cx="257.9" cy="173.0" r="1.02"/><circle cx="262.4" cy="179.5" r="1.02"/><circle cx="268.4" cy="175.4" r="1.02"/><circle cx="277.2" cy="167.5" r="1.02"/><circle cx="281.4" cy="173.5" r="1.02"/><circle cx="296.2" cy="182.0" r="1.02"/><circle cx="300.4" cy="179.8" r="1.02"/><circle cx="299.8" cy="182.9" r="1.02"/><circle cx="309.2" cy="172.1" r="1.02"/><circle cx="315.6" cy="156.1" r="1.02"/><circle cx="322.1" cy="183.5" r="1.02"/><circle cx="326.1" cy="185.3" r="1.02"/><circle cx="325.5" cy="173.5" r="1.02"/><circle cx="332.6" cy="168.6" r="1.02"/><circle cx="365.7" cy="165.4" r="1.02"/><circle cx="370.0" cy="178.9" r="1.02"/><circle cx="378.1" cy="176.3" r="1.02"/><circle cx="53.8" cy="181.0" r="1.02"/><circle cx="47.6" cy="183.3" r="1.02"/><circle cx="50.7" cy="184.8" r="1.02"/><circle cx="46.5" cy="185.3" r="1.02"/><circle cx="47.6" cy="187.9" r="1.02"/><circle cx="49.1" cy="190.5" r="1.02"/><circle cx="51.2" cy="193.1" r="1.02"/><circle cx="53.8" cy="188.2" r="1.02"/><circle cx="42.4" cy="194.1" r="1.02"/><circle cx="45.0" cy="194.1" r="1.02"/><circle cx="40.3" cy="202.9" r="1.02"/><circle cx="43.4" cy="205.8" r="1.02"/><circle cx="40.3" cy="208.1" r="1.02"/><circle cx="39.6" cy="205.2" r="1.02"/></g><g fill="#2747a4"><circle cx="40.8" cy="452.9" r="2.48"/><circle cx="40.1" cy="451.4" r="2.48"/><circle cx="41.1" cy="451.1" r="2.48"/><circle cx="40.1" cy="449.7" r="2.48"/><circle cx="41.1" cy="449.5" r="2.48"/><circle cx="40.1" cy="448.2" r="2.48"/><circle cx="41.6" cy="447.9" r="2.48"/><circle cx="42.0" cy="446.6" r="2.48"/><circle cx="40.1" cy="446.4" r="2.48"/><circle cx="42.3" cy="445.0" r="2.48"/><circle cx="40.3" cy="444.9" r="2.48"/><circle cx="42.5" cy="443.5" r="2.48"/><circle cx="40.1" cy="443.2" r="2.48"/><circle cx="41.2" cy="441.9" r="2.48"/><circle cx="42.8" cy="441.8" r="2.48"/><circle cx="40.1" cy="441.7" r="2.48"/><circle cx="41.5" cy="440.4" r="2.48"/><circle cx="43.1" cy="440.2" r="2.48"/><circle cx="40.1" cy="440.2" r="2.48"/><circle cx="42.0" cy="439.0" r="2.48"/><circle cx="43.1" cy="438.7" r="2.48"/><circle cx="40.1" cy="438.5" r="2.48"/><circle cx="40.1" cy="437.2" r="2.48"/><circle cx="43.3" cy="437.0" r="2.48"/><circle cx="42.0" cy="436.9" r="2.48"/><circle cx="40.2" cy="435.9" r="2.48"/><circle cx="43.7" cy="435.7" r="2.48"/><circle cx="41.7" cy="435.5" r="2.48"/><circle cx="42.3" cy="434.3" r="2.48"/><circle cx="40.1" cy="434.3" r="2.48"/><circle cx="44.0" cy="433.8" r="2.48"/><circle cx="44.3" cy="432.7" r="2.48"/><circle cx="40.1" cy="432.7" r="2.48"/><circle cx="42.1" cy="432.4" r="2.48"/><circle cx="41.5" cy="431.3" r="2.48"/><circle cx="44.4" cy="431.2" r="2.48"/><circle cx="40.2" cy="431.0" r="2.48"/><circle cx="43.1" cy="430.9" r="2.48"/><circle cx="40.4" cy="429.7" r="2.48"/><circle cx="42.9" cy="429.6" r="2.48"/><circle cx="41.9" cy="429.5" r="2.48"/><circle cx="44.6" cy="429.3" r="2.48"/><circle cx="45.1" cy="428.0" r="2.48"/><circle cx="41.8" cy="427.8" r="2.48"/><circle cx="40.1" cy="427.6" r="2.48"/><circle cx="43.6" cy="427.6" r="2.48"/><circle cx="42.0" cy="426.5" r="2.48"/><circle cx="43.7" cy="426.4" r="2.48"/><circle cx="45.2" cy="426.2" r="2.48"/><circle cx="40.4" cy="426.2" r="2.48"/><circle cx="44.0" cy="425.1" r="2.48"/><circle cx="45.6" cy="425.1" r="2.48"/><circle cx="41.6" cy="425.1" r="2.48"/><circle cx="40.4" cy="424.6" r="2.48"/><circle cx="43.9" cy="423.2" r="2.48"/><circle cx="45.8" cy="423.2" r="2.48"/><circle cx="40.1" cy="423.1" r="2.48"/><circle cx="42.2" cy="423.1" r="2.48"/><circle cx="40.3" cy="421.9" r="2.48"/><circle cx="44.3" cy="421.8" r="2.48"/><circle cx="46.2" cy="421.6" r="2.48"/><circle cx="41.9" cy="421.6" r="2.48"/><circle cx="41.6" cy="420.2" r="2.48"/><circle cx="43.5" cy="420.1" r="2.48"/><circle cx="46.4" cy="420.0" r="2.48"/><circle cx="40.3" cy="419.9" r="2.48"/><circle cx="44.7" cy="419.9" r="2.48"/><circle cx="46.6" cy="418.6" r="2.48"/><circle cx="41.6" cy="418.6" r="2.48"/><circle cx="44.9" cy="418.5" r="2.48"/><circle cx="40.3" cy="418.4" r="2.48"/><circle cx="43.5" cy="418.4" r="2.48"/><circle cx="45.2" cy="417.2" r="2.48"/><circle cx="40.2" cy="417.1" r="2.48"/><circle cx="41.7" cy="417.0" r="2.48"/><circle cx="46.6" cy="416.9" r="2.48"/><circle cx="43.6" cy="416.8" r="2.48"/><circle cx="42.0" cy="415.8" r="2.48"/><circle cx="43.4" cy="415.5" r="2.48"/><circle cx="45.3" cy="415.4" r="2.48"/><circle cx="46.9" cy="415.4" r="2.48"/><circle cx="40.2" cy="415.2" r="2.48"/><circle cx="47.1" cy="414.1" r="2.48"/><circle cx="40.2" cy="414.0" r="2.48"/><circle cx="43.7" cy="413.9" r="2.48"/><circle cx="45.5" cy="413.9" r="2.48"/><circle cx="42.0" cy="413.7" r="2.48"/><circle cx="40.2" cy="412.5" r="2.48"/><circle cx="47.3" cy="412.4" r="2.48"/><circle cx="44.1" cy="412.4" r="2.48"/><circle cx="41.9" cy="412.3" r="2.48"/><circle cx="45.6" cy="412.1" r="2.48"/><circle cx="45.7" cy="410.9" r="2.48"/><circle cx="44.0" cy="410.9" r="2.48"/><circle cx="42.0" cy="410.9" r="2.48"/><circle cx="47.5" cy="410.8" r="2.48"/><circle cx="40.5" cy="410.8" r="2.48"/><circle cx="44.2" cy="408.2" r="2.48"/><circle cx="48.0" cy="407.9" r="2.48"/><circle cx="42.3" cy="407.3" r="2.48"/><circle cx="42.4" cy="404.6" r="2.48"/><circle cx="48.5" cy="404.5" r="2.48"/><circle cx="45.6" cy="404.3" r="2.48"/><circle cx="43.6" cy="400.5" r="2.48"/><circle cx="48.7" cy="400.1" r="2.48"/><circle cx="48.0" cy="397.0" r="2.48"/><circle cx="43.6" cy="396.9" r="2.48"/><circle cx="48.5" cy="393.3" r="2.48"/><circle cx="44.6" cy="393.3" r="2.48"/><circle cx="48.3" cy="390.0" r="2.48"/><circle cx="44.7" cy="389.3" r="2.48"/><circle cx="49.7" cy="386.8" r="2.48"/><circle cx="45.1" cy="386.0" r="2.48"/><circle cx="51.1" cy="383.3" r="2.48"/><circle cx="45.9" cy="382.0" r="2.48"/><circle cx="51.9" cy="379.1" r="2.48"/><circle cx="46.6" cy="378.3" r="2.48"/><circle cx="47.1" cy="376.0" r="2.48"/><circle cx="52.4" cy="375.6" r="2.48"/><circle cx="52.3" cy="372.4" r="2.48"/><circle cx="47.5" cy="372.4" r="2.48"/><circle cx="53.7" cy="367.7" r="2.48"/><circle cx="48.3" cy="367.6" r="2.48"/><circle cx="49.0" cy="364.1" r="2.48"/><circle cx="54.3" cy="363.9" r="2.48"/><circle cx="54.0" cy="361.2" r="2.48"/><circle cx="50.0" cy="361.1" r="2.48"/><circle cx="50.9" cy="358.1" r="2.48"/><circle cx="55.0" cy="357.7" r="2.48"/><circle cx="54.9" cy="354.3" r="2.48"/><circle cx="51.7" cy="353.8" r="2.48"/><circle cx="78.2" cy="271.8" r="2.48"/><circle cx="78.2" cy="274.1" r="2.48"/><circle cx="78.2" cy="285.3" r="2.48"/><circle cx="84.7" cy="284.7" r="2.48"/><circle cx="55.7" cy="301.2" r="2.48"/><circle cx="78.2" cy="301.5" r="2.48"/><circle cx="78.2" cy="304.6" r="2.48"/><circle cx="55.7" cy="311.7" r="2.48"/><circle cx="51.8" cy="317.0" r="2.48"/><circle cx="59.2" cy="319.0" r="2.48"/><circle cx="65.4" cy="316.2" r="2.48"/><circle cx="71.7" cy="314.8" r="2.48"/><circle cx="75.1" cy="313.9" r="2.48"/><circle cx="78.2" cy="312.8" r="2.48"/><circle cx="78.2" cy="315.2" r="2.48"/><circle cx="78.2" cy="317.5" r="2.48"/><circle cx="84.7" cy="320.1" r="2.48"/><circle cx="81.3" cy="322.1" r="2.48"/><circle cx="55.7" cy="322.1" r="2.48"/><circle cx="68.9" cy="324.8" r="2.48"/><circle cx="72.0" cy="323.2" r="2.48"/><circle cx="75.1" cy="325.2" r="2.48"/><circle cx="78.2" cy="330.3" r="2.48"/><circle cx="62.3" cy="327.6" r="2.48"/><circle cx="65.8" cy="329.1" r="2.48"/><circle cx="52.6" cy="329.9" r="2.48"/><circle cx="55.7" cy="331.9" r="2.48"/><circle cx="58.8" cy="331.9" r="2.48"/><circle cx="60.3" cy="334.5" r="2.48"/><circle cx="56.5" cy="334.5" r="2.48"/><circle cx="62.3" cy="336.6" r="2.48"/><circle cx="65.8" cy="335.0" r="2.48"/><circle cx="72.0" cy="335.6" r="2.48"/><circle cx="78.2" cy="336.6" r="2.48"/><circle cx="51.8" cy="336.6" r="2.48"/><circle cx="59.6" cy="336.9" r="2.48"/><circle cx="51.0" cy="340.7" r="2.48"/><circle cx="56.5" cy="340.0" r="2.48"/><circle cx="56.8" cy="343.8" r="2.48"/><circle cx="60.3" cy="342.3" r="2.48"/><circle cx="65.8" cy="343.1" r="2.48"/><circle cx="72.0" cy="342.3" r="2.48"/><circle cx="51.8" cy="347.0" r="2.48"/><circle cx="65.8" cy="348.5" r="2.48"/><circle cx="55.7" cy="350.5" r="2.48"/><circle cx="52.6" cy="352.7" r="2.48"/><circle cx="65.8" cy="353.6" r="2.48"/><circle cx="65.8" cy="357.8" r="2.48"/><circle cx="59.2" cy="357.8" r="2.48"/><circle cx="78.2" cy="363.2" r="2.48"/><circle cx="84.7" cy="362.4" r="2.48"/><circle cx="59.2" cy="370.9" r="2.48"/><circle cx="59.2" cy="373.3" r="2.48"/><circle cx="59.2" cy="375.6" r="2.48"/><circle cx="62.3" cy="381.3" r="2.48"/><circle cx="78.2" cy="385.7" r="2.48"/><circle cx="59.2" cy="389.5" r="2.48"/><circle cx="59.2" cy="399.9" r="2.48"/><circle cx="53.1" cy="352.7" r="2.48"/><circle cx="58.8" cy="357.8" r="2.48"/><circle cx="49.2" cy="358.8" r="2.48"/><circle cx="53.1" cy="360.3" r="2.48"/><circle cx="56.2" cy="364.8" r="2.48"/><circle cx="48.6" cy="366.0" r="2.48"/><circle cx="52.4" cy="366.0" r="2.48"/><circle cx="53.1" cy="368.6" r="2.48"/><circle cx="49.2" cy="369.9" r="2.48"/><circle cx="46.1" cy="374.9" r="2.48"/><circle cx="51.8" cy="375.6" r="2.48"/><circle cx="44.8" cy="378.1" r="2.48"/><circle cx="53.1" cy="378.1" r="2.48"/><circle cx="49.2" cy="379.4" r="2.48"/><circle cx="51.2" cy="381.3" r="2.48"/><circle cx="55.0" cy="381.7" r="2.48"/><circle cx="46.7" cy="383.8" r="2.48"/><circle cx="43.5" cy="387.0" r="2.48"/><circle cx="48.0" cy="387.0" r="2.48"/><circle cx="42.9" cy="390.8" r="2.48"/><circle cx="46.7" cy="392.1" r="2.48"/><circle cx="43.5" cy="394.6" r="2.48"/><circle cx="48.6" cy="394.6" r="2.48"/><circle cx="45.4" cy="396.5" r="2.48"/><circle cx="49.2" cy="397.8" r="2.48"/><circle cx="58.9" cy="400.2" r="2.48"/><circle cx="45.8" cy="396.4" r="2.48"/><circle cx="45.8" cy="401.2" r="2.48"/><circle cx="48.5" cy="402.6" r="2.48"/><circle cx="51.3" cy="407.4" r="2.48"/><circle cx="48.5" cy="408.8" r="2.48"/><circle cx="45.8" cy="406.7" r="2.48"/><circle cx="45.1" cy="412.9" r="2.48"/><circle cx="47.2" cy="414.3" r="2.48"/><circle cx="45.8" cy="417.0" r="2.48"/><circle cx="49.2" cy="424.2" r="2.48"/><circle cx="43.7" cy="422.5" r="2.48"/><circle cx="97.4" cy="303.1" r="2.48"/><circle cx="97.4" cy="319.5" r="2.48"/><circle cx="110.1" cy="279.5" r="2.48"/><circle cx="110.1" cy="296.6" r="2.48"/><circle cx="113.7" cy="304.0" r="2.48"/><circle cx="100.5" cy="288.8" r="2.48"/><circle cx="123.0" cy="268.7" r="2.48"/><circle cx="123.0" cy="301.2" r="2.48"/><circle cx="135.6" cy="299.3" r="2.48"/><circle cx="139.0" cy="288.1" r="2.48"/><circle cx="139.0" cy="294.3" r="2.48"/><circle cx="161.3" cy="312.8" r="2.48"/><circle cx="177.4" cy="289.6" r="2.48"/><circle cx="263.9" cy="300.0" r="2.48"/><circle cx="91.2" cy="273.3" r="2.48"/><circle cx="91.2" cy="280.0" r="2.48"/><circle cx="91.2" cy="284.2" r="2.48"/><circle cx="91.2" cy="293.5" r="2.48"/><circle cx="91.2" cy="298.5" r="2.48"/><circle cx="91.2" cy="302.0" r="2.48"/><circle cx="91.2" cy="305.9" r="2.48"/><circle cx="91.2" cy="311.3" r="2.48"/><circle cx="91.2" cy="314.4" r="2.48"/><circle cx="91.2" cy="317.5" r="2.48"/><circle cx="91.2" cy="320.6" r="2.48"/><circle cx="91.2" cy="323.7" r="2.48"/><circle cx="91.2" cy="329.9" r="2.48"/><circle cx="91.2" cy="333.8" r="2.48"/><circle cx="91.2" cy="336.9" r="2.48"/><circle cx="91.2" cy="340.7" r="2.48"/><circle cx="91.2" cy="345.9" r="2.48"/><circle cx="103.9" cy="276.0" r="2.48"/><circle cx="103.9" cy="281.1" r="2.48"/><circle cx="103.9" cy="285.7" r="2.48"/><circle cx="103.9" cy="302.4" r="2.48"/><circle cx="103.9" cy="304.3" r="2.48"/><circle cx="103.9" cy="312.8" r="2.48"/><circle cx="103.9" cy="318.6" r="2.48"/><circle cx="103.9" cy="345.9" r="2.48"/><circle cx="116.8" cy="263.6" r="2.48"/><circle cx="116.8" cy="277.2" r="2.48"/><circle cx="116.8" cy="286.8" r="2.48"/><circle cx="116.8" cy="292.7" r="2.48"/><circle cx="116.8" cy="298.1" r="2.48"/><circle cx="116.8" cy="309.3" r="2.48"/><circle cx="116.8" cy="322.6" r="2.48"/><circle cx="129.2" cy="282.6" r="2.48"/><circle cx="129.2" cy="286.2" r="2.48"/><circle cx="129.2" cy="297.5" r="2.48"/><circle cx="129.2" cy="302.0" r="2.48"/><circle cx="129.2" cy="306.6" r="2.48"/><circle cx="129.2" cy="318.3" r="2.48"/><circle cx="129.2" cy="322.6" r="2.48"/><circle cx="129.2" cy="333.8" r="2.48"/><circle cx="129.2" cy="340.3" r="2.48"/><circle cx="142.0" cy="268.7" r="2.48"/><circle cx="142.0" cy="283.7" r="2.48"/><circle cx="142.0" cy="287.3" r="2.48"/><circle cx="142.0" cy="293.5" r="2.48"/><circle cx="142.0" cy="297.0" r="2.48"/><circle cx="142.0" cy="310.5" r="2.48"/><circle cx="142.0" cy="312.8" r="2.48"/><circle cx="142.0" cy="324.8" r="2.48"/><circle cx="142.0" cy="331.4" r="2.48"/><circle cx="142.0" cy="339.7" r="2.48"/><circle cx="155.1" cy="283.7" r="2.48"/><circle cx="155.1" cy="295.8" r="2.48"/><circle cx="155.1" cy="301.2" r="2.48"/><circle cx="155.1" cy="311.7" r="2.48"/><circle cx="155.1" cy="337.6" r="2.48"/><circle cx="155.1" cy="344.4" r="2.48"/><circle cx="167.7" cy="283.4" r="2.48"/><circle cx="167.7" cy="285.0" r="2.48"/><circle cx="167.7" cy="306.2" r="2.48"/><circle cx="167.7" cy="319.8" r="2.48"/><circle cx="167.7" cy="321.7" r="2.48"/><circle cx="180.5" cy="274.4" r="2.48"/><circle cx="180.5" cy="298.6" r="2.48"/><circle cx="180.5" cy="308.6" r="2.48"/><circle cx="180.5" cy="335.6" r="2.48"/><circle cx="193.4" cy="276.4" r="2.48"/><circle cx="193.4" cy="289.6" r="2.48"/><circle cx="193.4" cy="292.7" r="2.48"/><circle cx="193.4" cy="296.1" r="2.48"/><circle cx="193.4" cy="306.6" r="2.48"/><circle cx="193.4" cy="312.8" r="2.48"/><circle cx="193.4" cy="325.7" r="2.48"/><circle cx="193.4" cy="333.4" r="2.48"/><circle cx="205.9" cy="277.2" r="2.48"/><circle cx="205.9" cy="300.5" r="2.48"/><circle cx="205.9" cy="307.4" r="2.48"/><circle cx="205.9" cy="310.5" r="2.48"/><circle cx="205.9" cy="313.3" r="2.48"/><circle cx="205.9" cy="316.4" r="2.48"/><circle cx="205.9" cy="319.0" r="2.48"/><circle cx="205.9" cy="321.7" r="2.48"/><circle cx="218.6" cy="283.7" r="2.48"/><circle cx="218.6" cy="291.2" r="2.48"/><circle cx="218.6" cy="293.5" r="2.48"/><circle cx="218.6" cy="295.8" r="2.48"/><circle cx="218.6" cy="298.1" r="2.48"/><circle cx="218.6" cy="302.8" r="2.48"/><circle cx="218.6" cy="319.0" r="2.48"/><circle cx="218.6" cy="326.3" r="2.48"/><circle cx="231.8" cy="281.6" r="2.48"/><circle cx="231.8" cy="282.6" r="2.48"/><circle cx="231.8" cy="300.5" r="2.48"/><circle cx="231.8" cy="305.9" r="2.48"/><circle cx="231.8" cy="308.2" r="2.48"/><circle cx="244.5" cy="279.0" r="2.48"/><circle cx="244.5" cy="285.7" r="2.48"/><circle cx="244.5" cy="289.6" r="2.48"/><circle cx="244.5" cy="292.7" r="2.48"/><circle cx="244.5" cy="295.8" r="2.48"/><circle cx="244.5" cy="298.5" r="2.48"/><circle cx="244.5" cy="302.4" r="2.48"/><circle cx="244.5" cy="309.7" r="2.48"/><circle cx="244.5" cy="313.6" r="2.48"/><circle cx="244.5" cy="317.9" r="2.48"/><circle cx="257.4" cy="271.3" r="2.48"/><circle cx="257.4" cy="278.0" r="2.48"/><circle cx="257.4" cy="285.7" r="2.48"/><circle cx="257.4" cy="288.4" r="2.48"/><circle cx="257.4" cy="291.2" r="2.48"/><circle cx="257.4" cy="300.4" r="2.48"/><circle cx="257.4" cy="305.9" r="2.48"/><circle cx="257.4" cy="309.0" r="2.48"/><circle cx="257.4" cy="322.1" r="2.48"/><circle cx="257.4" cy="327.9" r="2.48"/><circle cx="270.1" cy="261.4" r="2.48"/><circle cx="270.1" cy="274.4" r="2.48"/><circle cx="270.1" cy="283.7" r="2.48"/><circle cx="270.1" cy="291.9" r="2.48"/><circle cx="270.1" cy="297.3" r="2.48"/><circle cx="270.1" cy="299.7" r="2.48"/><circle cx="270.1" cy="304.0" r="2.48"/><circle cx="270.1" cy="318.0" r="2.48"/><circle cx="282.8" cy="265.6" r="2.48"/><circle cx="282.8" cy="268.7" r="2.48"/><circle cx="282.8" cy="274.9" r="2.48"/><circle cx="282.8" cy="281.1" r="2.48"/><circle cx="282.8" cy="284.2" r="2.48"/><circle cx="282.8" cy="287.3" r="2.48"/><circle cx="282.8" cy="289.6" r="2.48"/><circle cx="282.8" cy="314.8" r="2.48"/><circle cx="282.8" cy="333.0" r="2.48"/><circle cx="295.5" cy="274.9" r="2.48"/><circle cx="295.5" cy="276.9" r="2.48"/><circle cx="295.5" cy="280.3" r="2.48"/><circle cx="295.5" cy="295.5" r="2.48"/><circle cx="295.5" cy="297.7" r="2.48"/><circle cx="295.5" cy="307.4" r="2.48"/><circle cx="295.5" cy="309.3" r="2.48"/><circle cx="295.5" cy="337.2" r="2.48"/><circle cx="308.4" cy="255.5" r="2.48"/><circle cx="308.4" cy="268.4" r="2.48"/><circle cx="308.4" cy="281.6" r="2.48"/><circle cx="308.4" cy="286.8" r="2.48"/><circle cx="308.4" cy="289.3" r="2.48"/><circle cx="308.4" cy="291.5" r="2.48"/><circle cx="308.4" cy="296.3" r="2.48"/><circle cx="308.4" cy="299.3" r="2.48"/><circle cx="308.4" cy="309.3" r="2.48"/><circle cx="308.4" cy="316.4" r="2.48"/><circle cx="308.4" cy="330.3" r="2.48"/><circle cx="321.4" cy="261.7" r="2.48"/><circle cx="321.4" cy="264.5" r="2.48"/><circle cx="321.4" cy="267.6" r="2.48"/><circle cx="321.4" cy="273.8" r="2.48"/><circle cx="321.4" cy="276.4" r="2.48"/><circle cx="321.4" cy="278.8" r="2.48"/><circle cx="321.4" cy="281.6" r="2.48"/><circle cx="321.4" cy="284.2" r="2.48"/><circle cx="321.4" cy="287.3" r="2.48"/><circle cx="321.4" cy="290.4" r="2.48"/><circle cx="321.4" cy="293.5" r="2.48"/><circle cx="321.4" cy="296.6" r="2.48"/><circle cx="321.4" cy="302.0" r="2.48"/><circle cx="321.4" cy="305.1" r="2.48"/><circle cx="321.4" cy="312.4" r="2.48"/><circle cx="321.4" cy="320.7" r="2.48"/><circle cx="334.3" cy="264.0" r="2.48"/><circle cx="334.3" cy="267.1" r="2.48"/><circle cx="334.3" cy="269.8" r="2.48"/><circle cx="334.3" cy="272.6" r="2.48"/><circle cx="334.3" cy="275.3" r="2.48"/><circle cx="334.3" cy="278.0" r="2.48"/><circle cx="334.3" cy="281.1" r="2.48"/><circle cx="334.3" cy="284.2" r="2.48"/><circle cx="334.3" cy="297.1" r="2.48"/><circle cx="334.3" cy="307.5" r="2.48"/><circle cx="334.3" cy="311.1" r="2.48"/><circle cx="334.3" cy="322.2" r="2.48"/><circle cx="334.3" cy="333.2" r="2.48"/><circle cx="347.0" cy="266.0" r="2.48"/><circle cx="347.0" cy="268.7" r="2.48"/><circle cx="347.0" cy="271.8" r="2.48"/><circle cx="347.0" cy="274.4" r="2.48"/><circle cx="347.0" cy="280.0" r="2.48"/><circle cx="347.0" cy="282.6" r="2.48"/><circle cx="347.0" cy="285.0" r="2.48"/><circle cx="347.0" cy="289.6" r="2.48"/><circle cx="347.0" cy="292.4" r="2.48"/><circle cx="347.0" cy="295.8" r="2.48"/><circle cx="347.0" cy="303.3" r="2.48"/><circle cx="347.0" cy="306.0" r="2.48"/><circle cx="347.0" cy="308.8" r="2.48"/><circle cx="347.0" cy="317.0" r="2.48"/><circle cx="359.7" cy="255.0" r="2.48"/><circle cx="359.7" cy="263.0" r="2.48"/><circle cx="359.7" cy="270.5" r="2.48"/><circle cx="359.7" cy="279.4" r="2.48"/><circle cx="359.7" cy="281.8" r="2.48"/><circle cx="359.7" cy="284.4" r="2.48"/><circle cx="359.7" cy="287.4" r="2.48"/><circle cx="359.7" cy="290.0" r="2.48"/><circle cx="359.7" cy="292.0" r="2.48"/><circle cx="359.7" cy="298.6" r="2.48"/><circle cx="359.7" cy="300.8" r="2.48"/><circle cx="359.7" cy="303.0" r="2.48"/><circle cx="359.7" cy="308.2" r="2.48"/><circle cx="359.7" cy="311.1" r="2.48"/><circle cx="359.7" cy="316.7" r="2.48"/><circle cx="359.7" cy="320.7" r="2.48"/><circle cx="359.7" cy="332.6" r="2.48"/></g><g fill="#fff"><circle cx="40.8" cy="452.9" r="1.02"/><circle cx="40.1" cy="451.4" r="1.02"/><circle cx="41.1" cy="451.1" r="1.02"/><circle cx="40.1" cy="449.7" r="1.02"/><circle cx="41.1" cy="449.5" r="1.02"/><circle cx="40.1" cy="448.2" r="1.02"/><circle cx="41.6" cy="447.9" r="1.02"/><circle cx="42.0" cy="446.6" r="1.02"/><circle cx="40.1" cy="446.4" r="1.02"/><circle cx="42.3" cy="445.0" r="1.02"/><circle cx="40.3" cy="444.9" r="1.02"/><circle cx="42.5" cy="443.5" r="1.02"/><circle cx="40.1" cy="443.2" r="1.02"/><circle cx="41.2" cy="441.9" r="1.02"/><circle cx="42.8" cy="441.8" r="1.02"/><circle cx="40.1" cy="441.7" r="1.02"/><circle cx="41.5" cy="440.4" r="1.02"/><circle cx="43.1" cy="440.2" r="1.02"/><circle cx="40.1" cy="440.2" r="1.02"/><circle cx="42.0" cy="439.0" r="1.02"/><circle cx="43.1" cy="438.7" r="1.02"/><circle cx="40.1" cy="438.5" r="1.02"/><circle cx="40.1" cy="437.2" r="1.02"/><circle cx="43.3" cy="437.0" r="1.02"/><circle cx="42.0" cy="436.9" r="1.02"/><circle cx="40.2" cy="435.9" r="1.02"/><circle cx="43.7" cy="435.7" r="1.02"/><circle cx="41.7" cy="435.5" r="1.02"/><circle cx="42.3" cy="434.3" r="1.02"/><circle cx="40.1" cy="434.3" r="1.02"/><circle cx="44.0" cy="433.8" r="1.02"/><circle cx="44.3" cy="432.7" r="1.02"/><circle cx="40.1" cy="432.7" r="1.02"/><circle cx="42.1" cy="432.4" r="1.02"/><circle cx="41.5" cy="431.3" r="1.02"/><circle cx="44.4" cy="431.2" r="1.02"/><circle cx="40.2" cy="431.0" r="1.02"/><circle cx="43.1" cy="430.9" r="1.02"/><circle cx="40.4" cy="429.7" r="1.02"/><circle cx="42.9" cy="429.6" r="1.02"/><circle cx="41.9" cy="429.5" r="1.02"/><circle cx="44.6" cy="429.3" r="1.02"/><circle cx="45.1" cy="428.0" r="1.02"/><circle cx="41.8" cy="427.8" r="1.02"/><circle cx="40.1" cy="427.6" r="1.02"/><circle cx="43.6" cy="427.6" r="1.02"/><circle cx="42.0" cy="426.5" r="1.02"/><circle cx="43.7" cy="426.4" r="1.02"/><circle cx="45.2" cy="426.2" r="1.02"/><circle cx="40.4" cy="426.2" r="1.02"/><circle cx="44.0" cy="425.1" r="1.02"/><circle cx="45.6" cy="425.1" r="1.02"/><circle cx="41.6" cy="425.1" r="1.02"/><circle cx="40.4" cy="424.6" r="1.02"/><circle cx="43.9" cy="423.2" r="1.02"/><circle cx="45.8" cy="423.2" r="1.02"/><circle cx="40.1" cy="423.1" r="1.02"/><circle cx="42.2" cy="423.1" r="1.02"/><circle cx="40.3" cy="421.9" r="1.02"/><circle cx="44.3" cy="421.8" r="1.02"/><circle cx="46.2" cy="421.6" r="1.02"/><circle cx="41.9" cy="421.6" r="1.02"/><circle cx="41.6" cy="420.2" r="1.02"/><circle cx="43.5" cy="420.1" r="1.02"/><circle cx="46.4" cy="420.0" r="1.02"/><circle cx="40.3" cy="419.9" r="1.02"/><circle cx="44.7" cy="419.9" r="1.02"/><circle cx="46.6" cy="418.6" r="1.02"/><circle cx="41.6" cy="418.6" r="1.02"/><circle cx="44.9" cy="418.5" r="1.02"/><circle cx="40.3" cy="418.4" r="1.02"/><circle cx="43.5" cy="418.4" r="1.02"/><circle cx="45.2" cy="417.2" r="1.02"/><circle cx="40.2" cy="417.1" r="1.02"/><circle cx="41.7" cy="417.0" r="1.02"/><circle cx="46.6" cy="416.9" r="1.02"/><circle cx="43.6" cy="416.8" r="1.02"/><circle cx="42.0" cy="415.8" r="1.02"/><circle cx="43.4" cy="415.5" r="1.02"/><circle cx="45.3" cy="415.4" r="1.02"/><circle cx="46.9" cy="415.4" r="1.02"/><circle cx="40.2" cy="415.2" r="1.02"/><circle cx="47.1" cy="414.1" r="1.02"/><circle cx="40.2" cy="414.0" r="1.02"/><circle cx="43.7" cy="413.9" r="1.02"/><circle cx="45.5" cy="413.9" r="1.02"/><circle cx="42.0" cy="413.7" r="1.02"/><circle cx="40.2" cy="412.5" r="1.02"/><circle cx="47.3" cy="412.4" r="1.02"/><circle cx="44.1" cy="412.4" r="1.02"/><circle cx="41.9" cy="412.3" r="1.02"/><circle cx="45.6" cy="412.1" r="1.02"/><circle cx="45.7" cy="410.9" r="1.02"/><circle cx="44.0" cy="410.9" r="1.02"/><circle cx="42.0" cy="410.9" r="1.02"/><circle cx="47.5" cy="410.8" r="1.02"/><circle cx="40.5" cy="410.8" r="1.02"/><circle cx="44.2" cy="408.2" r="1.02"/><circle cx="48.0" cy="407.9" r="1.02"/><circle cx="42.3" cy="407.3" r="1.02"/><circle cx="42.4" cy="404.6" r="1.02"/><circle cx="48.5" cy="404.5" r="1.02"/><circle cx="45.6" cy="404.3" r="1.02"/><circle cx="43.6" cy="400.5" r="1.02"/><circle cx="48.7" cy="400.1" r="1.02"/><circle cx="48.0" cy="397.0" r="1.02"/><circle cx="43.6" cy="396.9" r="1.02"/><circle cx="48.5" cy="393.3" r="1.02"/><circle cx="44.6" cy="393.3" r="1.02"/><circle cx="48.3" cy="390.0" r="1.02"/><circle cx="44.7" cy="389.3" r="1.02"/><circle cx="49.7" cy="386.8" r="1.02"/><circle cx="45.1" cy="386.0" r="1.02"/><circle cx="51.1" cy="383.3" r="1.02"/><circle cx="45.9" cy="382.0" r="1.02"/><circle cx="51.9" cy="379.1" r="1.02"/><circle cx="46.6" cy="378.3" r="1.02"/><circle cx="47.1" cy="376.0" r="1.02"/><circle cx="52.4" cy="375.6" r="1.02"/><circle cx="52.3" cy="372.4" r="1.02"/><circle cx="47.5" cy="372.4" r="1.02"/><circle cx="53.7" cy="367.7" r="1.02"/><circle cx="48.3" cy="367.6" r="1.02"/><circle cx="49.0" cy="364.1" r="1.02"/><circle cx="54.3" cy="363.9" r="1.02"/><circle cx="54.0" cy="361.2" r="1.02"/><circle cx="50.0" cy="361.1" r="1.02"/><circle cx="50.9" cy="358.1" r="1.02"/><circle cx="55.0" cy="357.7" r="1.02"/><circle cx="54.9" cy="354.3" r="1.02"/><circle cx="51.7" cy="353.8" r="1.02"/><circle cx="78.2" cy="271.8" r="1.02"/><circle cx="78.2" cy="274.1" r="1.02"/><circle cx="78.2" cy="285.3" r="1.02"/><circle cx="84.7" cy="284.7" r="1.02"/><circle cx="55.7" cy="301.2" r="1.02"/><circle cx="78.2" cy="301.5" r="1.02"/><circle cx="78.2" cy="304.6" r="1.02"/><circle cx="55.7" cy="311.7" r="1.02"/><circle cx="51.8" cy="317.0" r="1.02"/><circle cx="59.2" cy="319.0" r="1.02"/><circle cx="65.4" cy="316.2" r="1.02"/><circle cx="71.7" cy="314.8" r="1.02"/><circle cx="75.1" cy="313.9" r="1.02"/><circle cx="78.2" cy="312.8" r="1.02"/><circle cx="78.2" cy="315.2" r="1.02"/><circle cx="78.2" cy="317.5" r="1.02"/><circle cx="84.7" cy="320.1" r="1.02"/><circle cx="81.3" cy="322.1" r="1.02"/><circle cx="55.7" cy="322.1" r="1.02"/><circle cx="68.9" cy="324.8" r="1.02"/><circle cx="72.0" cy="323.2" r="1.02"/><circle cx="75.1" cy="325.2" r="1.02"/><circle cx="78.2" cy="330.3" r="1.02"/><circle cx="62.3" cy="327.6" r="1.02"/><circle cx="65.8" cy="329.1" r="1.02"/><circle cx="52.6" cy="329.9" r="1.02"/><circle cx="55.7" cy="331.9" r="1.02"/><circle cx="58.8" cy="331.9" r="1.02"/><circle cx="60.3" cy="334.5" r="1.02"/><circle cx="56.5" cy="334.5" r="1.02"/><circle cx="62.3" cy="336.6" r="1.02"/><circle cx="65.8" cy="335.0" r="1.02"/><circle cx="72.0" cy="335.6" r="1.02"/><circle cx="78.2" cy="336.6" r="1.02"/><circle cx="51.8" cy="336.6" r="1.02"/><circle cx="59.6" cy="336.9" r="1.02"/><circle cx="51.0" cy="340.7" r="1.02"/><circle cx="56.5" cy="340.0" r="1.02"/><circle cx="56.8" cy="343.8" r="1.02"/><circle cx="60.3" cy="342.3" r="1.02"/><circle cx="65.8" cy="343.1" r="1.02"/><circle cx="72.0" cy="342.3" r="1.02"/><circle cx="51.8" cy="347.0" r="1.02"/><circle cx="65.8" cy="348.5" r="1.02"/><circle cx="55.7" cy="350.5" r="1.02"/><circle cx="52.6" cy="352.7" r="1.02"/><circle cx="65.8" cy="353.6" r="1.02"/><circle cx="65.8" cy="357.8" r="1.02"/><circle cx="59.2" cy="357.8" r="1.02"/><circle cx="78.2" cy="363.2" r="1.02"/><circle cx="84.7" cy="362.4" r="1.02"/><circle cx="59.2" cy="370.9" r="1.02"/><circle cx="59.2" cy="373.3" r="1.02"/><circle cx="59.2" cy="375.6" r="1.02"/><circle cx="62.3" cy="381.3" r="1.02"/><circle cx="78.2" cy="385.7" r="1.02"/><circle cx="59.2" cy="389.5" r="1.02"/><circle cx="59.2" cy="399.9" r="1.02"/><circle cx="53.1" cy="352.7" r="1.02"/><circle cx="58.8" cy="357.8" r="1.02"/><circle cx="49.2" cy="358.8" r="1.02"/><circle cx="53.1" cy="360.3" r="1.02"/><circle cx="56.2" cy="364.8" r="1.02"/><circle cx="48.6" cy="366.0" r="1.02"/><circle cx="52.4" cy="366.0" r="1.02"/><circle cx="53.1" cy="368.6" r="1.02"/><circle cx="49.2" cy="369.9" r="1.02"/><circle cx="46.1" cy="374.9" r="1.02"/><circle cx="51.8" cy="375.6" r="1.02"/><circle cx="44.8" cy="378.1" r="1.02"/><circle cx="53.1" cy="378.1" r="1.02"/><circle cx="49.2" cy="379.4" r="1.02"/><circle cx="51.2" cy="381.3" r="1.02"/><circle cx="55.0" cy="381.7" r="1.02"/><circle cx="46.7" cy="383.8" r="1.02"/><circle cx="43.5" cy="387.0" r="1.02"/><circle cx="48.0" cy="387.0" r="1.02"/><circle cx="42.9" cy="390.8" r="1.02"/><circle cx="46.7" cy="392.1" r="1.02"/><circle cx="43.5" cy="394.6" r="1.02"/><circle cx="48.6" cy="394.6" r="1.02"/><circle cx="45.4" cy="396.5" r="1.02"/><circle cx="49.2" cy="397.8" r="1.02"/><circle cx="58.9" cy="400.2" r="1.02"/><circle cx="45.8" cy="396.4" r="1.02"/><circle cx="45.8" cy="401.2" r="1.02"/><circle cx="48.5" cy="402.6" r="1.02"/><circle cx="51.3" cy="407.4" r="1.02"/><circle cx="48.5" cy="408.8" r="1.02"/><circle cx="45.8" cy="406.7" r="1.02"/><circle cx="45.1" cy="412.9" r="1.02"/><circle cx="47.2" cy="414.3" r="1.02"/><circle cx="45.8" cy="417.0" r="1.02"/><circle cx="49.2" cy="424.2" r="1.02"/><circle cx="43.7" cy="422.5" r="1.02"/><circle cx="97.4" cy="303.1" r="1.02"/><circle cx="97.4" cy="319.5" r="1.02"/><circle cx="110.1" cy="279.5" r="1.02"/><circle cx="110.1" cy="296.6" r="1.02"/><circle cx="113.7" cy="304.0" r="1.02"/><circle cx="100.5" cy="288.8" r="1.02"/><circle cx="123.0" cy="268.7" r="1.02"/><circle cx="123.0" cy="301.2" r="1.02"/><circle cx="135.6" cy="299.3" r="1.02"/><circle cx="139.0" cy="288.1" r="1.02"/><circle cx="139.0" cy="294.3" r="1.02"/><circle cx="161.3" cy="312.8" r="1.02"/><circle cx="177.4" cy="289.6" r="1.02"/><circle cx="263.9" cy="300.0" r="1.02"/><circle cx="91.2" cy="273.3" r="1.02"/><circle cx="91.2" cy="280.0" r="1.02"/><circle cx="91.2" cy="284.2" r="1.02"/><circle cx="91.2" cy="293.5" r="1.02"/><circle cx="91.2" cy="298.5" r="1.02"/><circle cx="91.2" cy="302.0" r="1.02"/><circle cx="91.2" cy="305.9" r="1.02"/><circle cx="91.2" cy="311.3" r="1.02"/><circle cx="91.2" cy="314.4" r="1.02"/><circle cx="91.2" cy="317.5" r="1.02"/><circle cx="91.2" cy="320.6" r="1.02"/><circle cx="91.2" cy="323.7" r="1.02"/><circle cx="91.2" cy="329.9" r="1.02"/><circle cx="91.2" cy="333.8" r="1.02"/><circle cx="91.2" cy="336.9" r="1.02"/><circle cx="91.2" cy="340.7" r="1.02"/><circle cx="91.2" cy="345.9" r="1.02"/><circle cx="103.9" cy="276.0" r="1.02"/><circle cx="103.9" cy="281.1" r="1.02"/><circle cx="103.9" cy="285.7" r="1.02"/><circle cx="103.9" cy="302.4" r="1.02"/><circle cx="103.9" cy="304.3" r="1.02"/><circle cx="103.9" cy="312.8" r="1.02"/><circle cx="103.9" cy="318.6" r="1.02"/><circle cx="103.9" cy="345.9" r="1.02"/><circle cx="116.8" cy="263.6" r="1.02"/><circle cx="116.8" cy="277.2" r="1.02"/><circle cx="116.8" cy="286.8" r="1.02"/><circle cx="116.8" cy="292.7" r="1.02"/><circle cx="116.8" cy="298.1" r="1.02"/><circle cx="116.8" cy="309.3" r="1.02"/><circle cx="116.8" cy="322.6" r="1.02"/><circle cx="129.2" cy="282.6" r="1.02"/><circle cx="129.2" cy="286.2" r="1.02"/><circle cx="129.2" cy="297.5" r="1.02"/><circle cx="129.2" cy="302.0" r="1.02"/><circle cx="129.2" cy="306.6" r="1.02"/><circle cx="129.2" cy="318.3" r="1.02"/><circle cx="129.2" cy="322.6" r="1.02"/><circle cx="129.2" cy="333.8" r="1.02"/><circle cx="129.2" cy="340.3" r="1.02"/><circle cx="142.0" cy="268.7" r="1.02"/><circle cx="142.0" cy="283.7" r="1.02"/><circle cx="142.0" cy="287.3" r="1.02"/><circle cx="142.0" cy="293.5" r="1.02"/><circle cx="142.0" cy="297.0" r="1.02"/><circle cx="142.0" cy="310.5" r="1.02"/><circle cx="142.0" cy="312.8" r="1.02"/><circle cx="142.0" cy="324.8" r="1.02"/><circle cx="142.0" cy="331.4" r="1.02"/><circle cx="142.0" cy="339.7" r="1.02"/><circle cx="155.1" cy="283.7" r="1.02"/><circle cx="155.1" cy="295.8" r="1.02"/><circle cx="155.1" cy="301.2" r="1.02"/><circle cx="155.1" cy="311.7" r="1.02"/><circle cx="155.1" cy="337.6" r="1.02"/><circle cx="155.1" cy="344.4" r="1.02"/><circle cx="167.7" cy="283.4" r="1.02"/><circle cx="167.7" cy="285.0" r="1.02"/><circle cx="167.7" cy="306.2" r="1.02"/><circle cx="167.7" cy="319.8" r="1.02"/><circle cx="167.7" cy="321.7" r="1.02"/><circle cx="180.5" cy="274.4" r="1.02"/><circle cx="180.5" cy="298.6" r="1.02"/><circle cx="180.5" cy="308.6" r="1.02"/><circle cx="180.5" cy="335.6" r="1.02"/><circle cx="193.4" cy="276.4" r="1.02"/><circle cx="193.4" cy="289.6" r="1.02"/><circle cx="193.4" cy="292.7" r="1.02"/><circle cx="193.4" cy="296.1" r="1.02"/><circle cx="193.4" cy="306.6" r="1.02"/><circle cx="193.4" cy="312.8" r="1.02"/><circle cx="193.4" cy="325.7" r="1.02"/><circle cx="193.4" cy="333.4" r="1.02"/><circle cx="205.9" cy="277.2" r="1.02"/><circle cx="205.9" cy="300.5" r="1.02"/><circle cx="205.9" cy="307.4" r="1.02"/><circle cx="205.9" cy="310.5" r="1.02"/><circle cx="205.9" cy="313.3" r="1.02"/><circle cx="205.9" cy="316.4" r="1.02"/><circle cx="205.9" cy="319.0" r="1.02"/><circle cx="205.9" cy="321.7" r="1.02"/><circle cx="218.6" cy="283.7" r="1.02"/><circle cx="218.6" cy="291.2" r="1.02"/><circle cx="218.6" cy="293.5" r="1.02"/><circle cx="218.6" cy="295.8" r="1.02"/><circle cx="218.6" cy="298.1" r="1.02"/><circle cx="218.6" cy="302.8" r="1.02"/><circle cx="218.6" cy="319.0" r="1.02"/><circle cx="218.6" cy="326.3" r="1.02"/><circle cx="231.8" cy="281.6" r="1.02"/><circle cx="231.8" cy="282.6" r="1.02"/><circle cx="231.8" cy="300.5" r="1.02"/><circle cx="231.8" cy="305.9" r="1.02"/><circle cx="231.8" cy="308.2" r="1.02"/><circle cx="244.5" cy="279.0" r="1.02"/><circle cx="244.5" cy="285.7" r="1.02"/><circle cx="244.5" cy="289.6" r="1.02"/><circle cx="244.5" cy="292.7" r="1.02"/><circle cx="244.5" cy="295.8" r="1.02"/><circle cx="244.5" cy="298.5" r="1.02"/><circle cx="244.5" cy="302.4" r="1.02"/><circle cx="244.5" cy="309.7" r="1.02"/><circle cx="244.5" cy="313.6" r="1.02"/><circle cx="244.5" cy="317.9" r="1.02"/><circle cx="257.4" cy="271.3" r="1.02"/><circle cx="257.4" cy="278.0" r="1.02"/><circle cx="257.4" cy="285.7" r="1.02"/><circle cx="257.4" cy="288.4" r="1.02"/><circle cx="257.4" cy="291.2" r="1.02"/><circle cx="257.4" cy="300.4" r="1.02"/><circle cx="257.4" cy="305.9" r="1.02"/><circle cx="257.4" cy="309.0" r="1.02"/><circle cx="257.4" cy="322.1" r="1.02"/><circle cx="257.4" cy="327.9" r="1.02"/><circle cx="270.1" cy="261.4" r="1.02"/><circle cx="270.1" cy="274.4" r="1.02"/><circle cx="270.1" cy="283.7" r="1.02"/><circle cx="270.1" cy="291.9" r="1.02"/><circle cx="270.1" cy="297.3" r="1.02"/><circle cx="270.1" cy="299.7" r="1.02"/><circle cx="270.1" cy="304.0" r="1.02"/><circle cx="270.1" cy="318.0" r="1.02"/><circle cx="282.8" cy="265.6" r="1.02"/><circle cx="282.8" cy="268.7" r="1.02"/><circle cx="282.8" cy="274.9" r="1.02"/><circle cx="282.8" cy="281.1" r="1.02"/><circle cx="282.8" cy="284.2" r="1.02"/><circle cx="282.8" cy="287.3" r="1.02"/><circle cx="282.8" cy="289.6" r="1.02"/><circle cx="282.8" cy="314.8" r="1.02"/><circle cx="282.8" cy="333.0" r="1.02"/><circle cx="295.5" cy="274.9" r="1.02"/><circle cx="295.5" cy="276.9" r="1.02"/><circle cx="295.5" cy="280.3" r="1.02"/><circle cx="295.5" cy="295.5" r="1.02"/><circle cx="295.5" cy="297.7" r="1.02"/><circle cx="295.5" cy="307.4" r="1.02"/><circle cx="295.5" cy="309.3" r="1.02"/><circle cx="295.5" cy="337.2" r="1.02"/><circle cx="308.4" cy="255.5" r="1.02"/><circle cx="308.4" cy="268.4" r="1.02"/><circle cx="308.4" cy="281.6" r="1.02"/><circle cx="308.4" cy="286.8" r="1.02"/><circle cx="308.4" cy="289.3" r="1.02"/><circle cx="308.4" cy="291.5" r="1.02"/><circle cx="308.4" cy="296.3" r="1.02"/><circle cx="308.4" cy="299.3" r="1.02"/><circle cx="308.4" cy="309.3" r="1.02"/><circle cx="308.4" cy="316.4" r="1.02"/><circle cx="308.4" cy="330.3" r="1.02"/><circle cx="321.4" cy="261.7" r="1.02"/><circle cx="321.4" cy="264.5" r="1.02"/><circle cx="321.4" cy="267.6" r="1.02"/><circle cx="321.4" cy="273.8" r="1.02"/><circle cx="321.4" cy="276.4" r="1.02"/><circle cx="321.4" cy="278.8" r="1.02"/><circle cx="321.4" cy="281.6" r="1.02"/><circle cx="321.4" cy="284.2" r="1.02"/><circle cx="321.4" cy="287.3" r="1.02"/><circle cx="321.4" cy="290.4" r="1.02"/><circle cx="321.4" cy="293.5" r="1.02"/><circle cx="321.4" cy="296.6" r="1.02"/><circle cx="321.4" cy="302.0" r="1.02"/><circle cx="321.4" cy="305.1" r="1.02"/><circle cx="321.4" cy="312.4" r="1.02"/><circle cx="321.4" cy="320.7" r="1.02"/><circle cx="334.3" cy="264.0" r="1.02"/><circle cx="334.3" cy="267.1" r="1.02"/><circle cx="334.3" cy="269.8" r="1.02"/><circle cx="334.3" cy="272.6" r="1.02"/><circle cx="334.3" cy="275.3" r="1.02"/><circle cx="334.3" cy="278.0" r="1.02"/><circle cx="334.3" cy="281.1" r="1.02"/><circle cx="334.3" cy="284.2" r="1.02"/><circle cx="334.3" cy="297.1" r="1.02"/><circle cx="334.3" cy="307.5" r="1.02"/><circle cx="334.3" cy="311.1" r="1.02"/><circle cx="334.3" cy="322.2" r="1.02"/><circle cx="334.3" cy="333.2" r="1.02"/><circle cx="347.0" cy="266.0" r="1.02"/><circle cx="347.0" cy="268.7" r="1.02"/><circle cx="347.0" cy="271.8" r="1.02"/><circle cx="347.0" cy="274.4" r="1.02"/><circle cx="347.0" cy="280.0" r="1.02"/><circle cx="347.0" cy="282.6" r="1.02"/><circle cx="347.0" cy="285.0" r="1.02"/><circle cx="347.0" cy="289.6" r="1.02"/><circle cx="347.0" cy="292.4" r="1.02"/><circle cx="347.0" cy="295.8" r="1.02"/><circle cx="347.0" cy="303.3" r="1.02"/><circle cx="347.0" cy="306.0" r="1.02"/><circle cx="347.0" cy="308.8" r="1.02"/><circle cx="347.0" cy="317.0" r="1.02"/><circle cx="359.7" cy="255.0" r="1.02"/><circle cx="359.7" cy="263.0" r="1.02"/><circle cx="359.7" cy="270.5" r="1.02"/><circle cx="359.7" cy="279.4" r="1.02"/><circle cx="359.7" cy="281.8" r="1.02"/><circle cx="359.7" cy="284.4" r="1.02"/><circle cx="359.7" cy="287.4" r="1.02"/><circle cx="359.7" cy="290.0" r="1.02"/><circle cx="359.7" cy="292.0" r="1.02"/><circle cx="359.7" cy="298.6" r="1.02"/><circle cx="359.7" cy="300.8" r="1.02"/><circle cx="359.7" cy="303.0" r="1.02"/><circle cx="359.7" cy="308.2" r="1.02"/><circle cx="359.7" cy="311.1" r="1.02"/><circle cx="359.7" cy="316.7" r="1.02"/><circle cx="359.7" cy="320.7" r="1.02"/><circle cx="359.7" cy="332.6" r="1.02"/></g><g fill="#1c9626"><circle cx="78.2" cy="267.6" r="2.48"/><circle cx="74.3" cy="296.6" r="2.48"/><circle cx="53.4" cy="311.3" r="2.48"/><circle cx="47.2" cy="321.0" r="2.48"/><circle cx="51.3" cy="327.2" r="2.48"/><circle cx="64.2" cy="325.2" r="2.48"/><circle cx="45.9" cy="329.9" r="2.48"/><circle cx="46.4" cy="335.6" r="2.48"/><circle cx="54.1" cy="340.0" r="2.48"/><circle cx="48.4" cy="345.4" r="2.48"/><circle cx="49.5" cy="350.8" r="2.48"/><circle cx="51.0" cy="357.0" r="2.48"/><circle cx="41.7" cy="361.6" r="2.48"/><circle cx="44.8" cy="361.6" r="2.48"/><circle cx="40.2" cy="400.0" r="2.48"/><circle cx="40.5" cy="401.6" r="2.48"/><circle cx="40.3" cy="408.1" r="2.48"/><circle cx="42.3" cy="410.2" r="2.48"/><circle cx="44.1" cy="411.8" r="2.48"/><circle cx="40.3" cy="419.1" r="2.48"/><circle cx="40.3" cy="420.5" r="2.48"/><circle cx="105.5" cy="259.8" r="2.48"/><circle cx="90.4" cy="282.2" r="2.48"/><circle cx="102.8" cy="285.0" r="2.48"/><circle cx="114.1" cy="289.6" r="2.48"/><circle cx="121.4" cy="296.1" r="2.48"/><circle cx="105.2" cy="298.6" r="2.48"/><circle cx="143.9" cy="291.2" r="2.48"/><circle cx="116.0" cy="307.1" r="2.48"/><circle cx="112.6" cy="313.9" r="2.48"/><circle cx="165.0" cy="274.4" r="2.48"/><circle cx="165.0" cy="275.7" r="2.48"/><circle cx="187.2" cy="295.0" r="2.48"/><circle cx="192.3" cy="299.2" r="2.48"/><circle cx="218.6" cy="266.4" r="2.48"/><circle cx="230.2" cy="268.2" r="2.48"/><circle cx="208.1" cy="276.9" r="2.48"/><circle cx="205.4" cy="285.0" r="2.48"/><circle cx="207.8" cy="284.5" r="2.48"/><circle cx="211.2" cy="284.5" r="2.48"/><circle cx="212.4" cy="294.6" r="2.48"/><circle cx="215.2" cy="299.2" r="2.48"/><circle cx="237.5" cy="294.3" r="2.48"/><circle cx="245.0" cy="287.3" r="2.48"/><circle cx="256.6" cy="278.0" r="2.48"/><circle cx="237.2" cy="302.8" r="2.48"/><circle cx="277.4" cy="257.4" r="2.48"/><circle cx="268.5" cy="286.8" r="2.48"/><circle cx="281.3" cy="280.6" r="2.48"/><circle cx="309.2" cy="274.1" r="2.48"/><circle cx="262.3" cy="304.6" r="2.48"/><circle cx="300.2" cy="307.1" r="2.48"/><circle cx="296.0" cy="313.9" r="2.48"/><circle cx="299.9" cy="315.9" r="2.48"/><circle cx="365.6" cy="248.1" r="2.48"/><circle cx="332.7" cy="261.4" r="2.48"/><circle cx="325.6" cy="280.0" r="2.48"/><circle cx="378.2" cy="292.7" r="2.48"/><circle cx="370.1" cy="302.0" r="2.48"/><circle cx="322.4" cy="321.1" r="2.48"/><circle cx="326.1" cy="327.7" r="2.48"/></g><g fill="#fff"><circle cx="78.2" cy="267.6" r="1.02"/><circle cx="74.3" cy="296.6" r="1.02"/><circle cx="53.4" cy="311.3" r="1.02"/><circle cx="47.2" cy="321.0" r="1.02"/><circle cx="51.3" cy="327.2" r="1.02"/><circle cx="64.2" cy="325.2" r="1.02"/><circle cx="45.9" cy="329.9" r="1.02"/><circle cx="46.4" cy="335.6" r="1.02"/><circle cx="54.1" cy="340.0" r="1.02"/><circle cx="48.4" cy="345.4" r="1.02"/><circle cx="49.5" cy="350.8" r="1.02"/><circle cx="51.0" cy="357.0" r="1.02"/><circle cx="41.7" cy="361.6" r="1.02"/><circle cx="44.8" cy="361.6" r="1.02"/><circle cx="40.2" cy="400.0" r="1.02"/><circle cx="40.5" cy="401.6" r="1.02"/><circle cx="40.3" cy="408.1" r="1.02"/><circle cx="42.3" cy="410.2" r="1.02"/><circle cx="44.1" cy="411.8" r="1.02"/><circle cx="40.3" cy="419.1" r="1.02"/><circle cx="40.3" cy="420.5" r="1.02"/><circle cx="105.5" cy="259.8" r="1.02"/><circle cx="90.4" cy="282.2" r="1.02"/><circle cx="102.8" cy="285.0" r="1.02"/><circle cx="114.1" cy="289.6" r="1.02"/><circle cx="121.4" cy="296.1" r="1.02"/><circle cx="105.2" cy="298.6" r="1.02"/><circle cx="143.9" cy="291.2" r="1.02"/><circle cx="116.0" cy="307.1" r="1.02"/><circle cx="112.6" cy="313.9" r="1.02"/><circle cx="165.0" cy="274.4" r="1.02"/><circle cx="165.0" cy="275.7" r="1.02"/><circle cx="187.2" cy="295.0" r="1.02"/><circle cx="192.3" cy="299.2" r="1.02"/><circle cx="218.6" cy="266.4" r="1.02"/><circle cx="230.2" cy="268.2" r="1.02"/><circle cx="208.1" cy="276.9" r="1.02"/><circle cx="205.4" cy="285.0" r="1.02"/><circle cx="207.8" cy="284.5" r="1.02"/><circle cx="211.2" cy="284.5" r="1.02"/><circle cx="212.4" cy="294.6" r="1.02"/><circle cx="215.2" cy="299.2" r="1.02"/><circle cx="237.5" cy="294.3" r="1.02"/><circle cx="245.0" cy="287.3" r="1.02"/><circle cx="256.6" cy="278.0" r="1.02"/><circle cx="237.2" cy="302.8" r="1.02"/><circle cx="277.4" cy="257.4" r="1.02"/><circle cx="268.5" cy="286.8" r="1.02"/><circle cx="281.3" cy="280.6" r="1.02"/><circle cx="309.2" cy="274.1" r="1.02"/><circle cx="262.3" cy="304.6" r="1.02"/><circle cx="300.2" cy="307.1" r="1.02"/><circle cx="296.0" cy="313.9" r="1.02"/><circle cx="299.9" cy="315.9" r="1.02"/><circle cx="365.6" cy="248.1" r="1.02"/><circle cx="332.7" cy="261.4" r="1.02"/><circle cx="325.6" cy="280.0" r="1.02"/><circle cx="378.2" cy="292.7" r="1.02"/><circle cx="370.1" cy="302.0" r="1.02"/><circle cx="322.4" cy="321.1" r="1.02"/><circle cx="326.1" cy="327.7" r="1.02"/></g><g fill="#2747a4"><circle cx="169.2" cy="447.6" r="2.09"/><circle cx="169.7" cy="446.5" r="2.09"/><circle cx="169.4" cy="445.6" r="2.09"/><circle cx="170.4" cy="445.5" r="2.09"/><circle cx="169.8" cy="444.5" r="2.09"/><circle cx="170.7" cy="444.5" r="2.09"/><circle cx="171.4" cy="443.6" r="2.09"/><circle cx="170.2" cy="443.6" r="2.09"/><circle cx="169.4" cy="443.4" r="2.09"/><circle cx="172.9" cy="442.6" r="2.09"/><circle cx="170.8" cy="442.6" r="2.09"/><circle cx="171.7" cy="442.4" r="2.09"/><circle cx="169.7" cy="442.4" r="2.09"/><circle cx="173.2" cy="441.6" r="2.09"/><circle cx="170.3" cy="441.6" r="2.09"/><circle cx="171.4" cy="441.5" r="2.09"/><circle cx="175.3" cy="441.4" r="2.09"/><circle cx="174.2" cy="441.4" r="2.09"/><circle cx="169.2" cy="441.4" r="2.09"/><circle cx="172.4" cy="441.4" r="2.09"/><circle cx="171.9" cy="440.6" r="2.09"/><circle cx="175.9" cy="440.6" r="2.09"/><circle cx="170.8" cy="440.6" r="2.09"/><circle cx="176.7" cy="440.6" r="2.09"/><circle cx="173.8" cy="440.5" r="2.09"/><circle cx="169.7" cy="440.5" r="2.09"/><circle cx="177.8" cy="440.5" r="2.09"/><circle cx="174.8" cy="440.4" r="2.09"/><circle cx="172.8" cy="440.4" r="2.09"/><circle cx="178.3" cy="439.6" r="2.09"/><circle cx="175.3" cy="439.6" r="2.09"/><circle cx="172.4" cy="439.6" r="2.09"/><circle cx="174.4" cy="439.6" r="2.09"/><circle cx="171.3" cy="439.6" r="2.09"/><circle cx="179.4" cy="439.5" r="2.09"/><circle cx="170.2" cy="439.5" r="2.09"/><circle cx="176.3" cy="439.4" r="2.09"/><circle cx="169.3" cy="439.4" r="2.09"/><circle cx="173.2" cy="439.4" r="2.09"/><circle cx="177.2" cy="439.4" r="2.09"/><circle cx="172.8" cy="438.6" r="2.09"/><circle cx="174.9" cy="438.6" r="2.09"/><circle cx="171.8" cy="438.5" r="2.09"/><circle cx="177.7" cy="438.5" r="2.09"/><circle cx="180.9" cy="438.5" r="2.09"/><circle cx="173.7" cy="438.5" r="2.09"/><circle cx="170.7" cy="438.5" r="2.09"/><circle cx="175.7" cy="438.4" r="2.09"/><circle cx="179.7" cy="438.4" r="2.09"/><circle cx="178.8" cy="438.4" r="2.09"/><circle cx="169.8" cy="438.4" r="2.09"/><circle cx="176.9" cy="438.4" r="2.09"/><circle cx="169.4" cy="437.6" r="2.09"/><circle cx="176.2" cy="437.6" r="2.09"/><circle cx="170.3" cy="437.6" r="2.09"/><circle cx="175.4" cy="437.6" r="2.09"/><circle cx="172.4" cy="437.6" r="2.09"/><circle cx="173.4" cy="437.5" r="2.09"/><circle cx="171.3" cy="437.5" r="2.09"/><circle cx="174.4" cy="437.5" r="2.09"/><circle cx="178.4" cy="437.4" r="2.09"/><circle cx="177.2" cy="437.4" r="2.09"/><circle cx="172.9" cy="436.6" r="2.09"/><circle cx="170.7" cy="436.6" r="2.09"/><circle cx="171.8" cy="436.5" r="2.09"/><circle cx="173.8" cy="436.5" r="2.09"/><circle cx="175.9" cy="436.5" r="2.09"/><circle cx="169.7" cy="436.5" r="2.09"/><circle cx="176.9" cy="436.4" r="2.09"/><circle cx="174.8" cy="436.4" r="2.09"/><circle cx="169.3" cy="435.6" r="2.09"/><circle cx="171.4" cy="435.6" r="2.09"/><circle cx="170.4" cy="435.5" r="2.09"/><circle cx="173.2" cy="435.5" r="2.09"/><circle cx="172.3" cy="435.5" r="2.09"/><circle cx="174.4" cy="435.4" r="2.09"/><circle cx="171.7" cy="434.6" r="2.09"/><circle cx="173.8" cy="434.6" r="2.09"/><circle cx="169.7" cy="434.5" r="2.09"/><circle cx="172.7" cy="434.5" r="2.09"/><circle cx="170.9" cy="434.4" r="2.09"/><circle cx="171.3" cy="433.4" r="2.09"/><circle cx="170.2" cy="433.4" r="2.09"/><circle cx="170.8" cy="432.5" r="2.09"/><circle cx="169.9" cy="432.5" r="2.09"/><circle cx="176.7" cy="424.7" r="2.09"/><circle cx="176.5" cy="426.9" r="2.09"/><circle cx="176.5" cy="430.0" r="2.09"/><circle cx="176.6" cy="432.3" r="2.09"/><circle cx="177.0" cy="435.8" r="2.09"/><circle cx="180.6" cy="420.2" r="2.09"/><circle cx="180.7" cy="423.1" r="2.09"/><circle cx="180.9" cy="425.1" r="2.09"/><circle cx="180.5" cy="427.6" r="2.09"/><circle cx="180.8" cy="430.7" r="2.09"/><circle cx="180.4" cy="433.3" r="2.09"/><circle cx="180.6" cy="436.5" r="2.09"/><circle cx="185.0" cy="416.5" r="2.09"/><circle cx="185.4" cy="418.8" r="2.09"/><circle cx="185.4" cy="421.8" r="2.09"/><circle cx="185.8" cy="424.2" r="2.09"/><circle cx="185.4" cy="427.0" r="2.09"/><circle cx="185.8" cy="429.4" r="2.09"/><circle cx="185.7" cy="432.7" r="2.09"/><circle cx="185.4" cy="434.6" r="2.09"/><circle cx="189.6" cy="412.2" r="2.09"/><circle cx="190.1" cy="415.2" r="2.09"/><circle cx="190.3" cy="417.1" r="2.09"/><circle cx="189.6" cy="419.8" r="2.09"/><circle cx="189.6" cy="423.0" r="2.09"/><circle cx="190.3" cy="425.9" r="2.09"/><circle cx="189.6" cy="428.6" r="2.09"/><circle cx="189.7" cy="430.8" r="2.09"/><circle cx="194.3" cy="409.5" r="2.09"/><circle cx="193.6" cy="413.1" r="2.09"/><circle cx="193.8" cy="415.2" r="2.09"/><circle cx="194.1" cy="418.3" r="2.09"/><circle cx="193.5" cy="420.6" r="2.09"/><circle cx="193.9" cy="423.5" r="2.09"/><circle cx="193.7" cy="426.3" r="2.09"/><circle cx="198.5" cy="410.9" r="2.09"/><circle cx="198.0" cy="413.3" r="2.09"/><circle cx="197.8" cy="416.6" r="2.09"/><circle cx="197.6" cy="419.5" r="2.09"/><circle cx="198.4" cy="421.4" r="2.09"/><circle cx="202.6" cy="406.7" r="2.09"/><circle cx="202.4" cy="409.8" r="2.09"/><circle cx="201.9" cy="412.4" r="2.09"/><circle cx="202.3" cy="415.2" r="2.09"/><circle cx="201.8" cy="417.9" r="2.09"/><circle cx="202.6" cy="420.5" r="2.09"/><circle cx="202.1" cy="422.6" r="2.09"/><circle cx="202.1" cy="425.5" r="2.09"/><circle cx="213.8" cy="382.4" r="2.09"/><circle cx="213.8" cy="392.8" r="2.09"/><circle cx="213.8" cy="395.3" r="2.09"/><circle cx="213.8" cy="397.3" r="2.09"/><circle cx="206.0" cy="402.8" r="2.09"/><circle cx="218.8" cy="388.6" r="2.09"/><circle cx="218.4" cy="399.5" r="2.09"/><circle cx="218.4" cy="402.1" r="2.09"/><circle cx="230.9" cy="374.7" r="2.09"/><circle cx="230.9" cy="380.5" r="2.09"/><circle cx="230.9" cy="385.0" r="2.09"/><circle cx="230.9" cy="390.8" r="2.09"/><circle cx="230.9" cy="393.8" r="2.09"/><circle cx="234.8" cy="389.1" r="2.09"/><circle cx="234.8" cy="395.6" r="2.09"/><circle cx="230.9" cy="399.2" r="2.09"/><circle cx="243.3" cy="383.7" r="2.09"/><circle cx="243.3" cy="389.5" r="2.09"/><circle cx="243.3" cy="391.5" r="2.09"/><circle cx="247.2" cy="392.1" r="2.09"/><circle cx="247.2" cy="395.1" r="2.09"/><circle cx="255.5" cy="387.9" r="2.09"/><circle cx="255.5" cy="392.1" r="2.09"/><circle cx="243.3" cy="402.6" r="2.09"/><circle cx="226.1" cy="403.7" r="2.09"/><circle cx="267.5" cy="382.0" r="2.09"/><circle cx="267.5" cy="388.6" r="2.09"/><circle cx="267.5" cy="391.2" r="2.09"/><circle cx="267.5" cy="394.2" r="2.09"/><circle cx="267.5" cy="396.9" r="2.09"/><circle cx="267.5" cy="399.4" r="2.09"/><circle cx="267.5" cy="402.1" r="2.09"/><circle cx="280.1" cy="386.5" r="2.09"/><circle cx="292.2" cy="381.4" r="2.09"/><circle cx="292.2" cy="386.0" r="2.09"/><circle cx="292.2" cy="391.2" r="2.09"/><circle cx="292.2" cy="394.7" r="2.09"/><circle cx="304.9" cy="381.4" r="2.09"/><circle cx="304.9" cy="386.5" r="2.09"/><circle cx="317.0" cy="361.8" r="2.09"/><circle cx="317.0" cy="367.0" r="2.09"/><circle cx="317.0" cy="375.6" r="2.09"/><circle cx="317.0" cy="378.2" r="2.09"/><circle cx="317.0" cy="381.7" r="2.09"/><circle cx="317.0" cy="388.6" r="2.09"/><circle cx="317.0" cy="392.1" r="2.09"/><circle cx="317.0" cy="405.0" r="2.09"/><circle cx="317.0" cy="415.9" r="2.09"/><circle cx="255.3" cy="413.5" r="2.09"/><circle cx="205.8" cy="403.2" r="2.09"/><circle cx="205.8" cy="406.4" r="2.09"/><circle cx="205.8" cy="409.0" r="2.09"/><circle cx="205.8" cy="420.0" r="2.09"/><circle cx="205.8" cy="421.9" r="2.09"/><circle cx="210.3" cy="410.9" r="2.09"/><circle cx="210.3" cy="413.8" r="2.09"/><circle cx="214.2" cy="411.6" r="2.09"/><circle cx="218.7" cy="403.2" r="2.09"/><circle cx="218.7" cy="405.8" r="2.09"/><circle cx="218.7" cy="408.3" r="2.09"/><circle cx="218.7" cy="410.9" r="2.09"/><circle cx="213.6" cy="426.2" r="2.09"/><circle cx="205.8" cy="434.8" r="2.09"/><circle cx="226.5" cy="405.8" r="2.09"/><circle cx="231.0" cy="406.0" r="2.09"/><circle cx="226.5" cy="414.1" r="2.09"/><circle cx="243.3" cy="409.0" r="2.09"/><circle cx="243.3" cy="410.9" r="2.09"/><circle cx="243.3" cy="417.6" r="2.09"/><circle cx="243.3" cy="422.5" r="2.09"/></g><g fill="#fff"><circle cx="169.2" cy="447.6" r="0.74"/><circle cx="169.7" cy="446.5" r="0.74"/><circle cx="169.4" cy="445.6" r="0.74"/><circle cx="170.4" cy="445.5" r="0.74"/><circle cx="169.8" cy="444.5" r="0.74"/><circle cx="170.7" cy="444.5" r="0.74"/><circle cx="171.4" cy="443.6" r="0.74"/><circle cx="170.2" cy="443.6" r="0.74"/><circle cx="169.4" cy="443.4" r="0.74"/><circle cx="172.9" cy="442.6" r="0.74"/><circle cx="170.8" cy="442.6" r="0.74"/><circle cx="171.7" cy="442.4" r="0.74"/><circle cx="169.7" cy="442.4" r="0.74"/><circle cx="173.2" cy="441.6" r="0.74"/><circle cx="170.3" cy="441.6" r="0.74"/><circle cx="171.4" cy="441.5" r="0.74"/><circle cx="175.3" cy="441.4" r="0.74"/><circle cx="174.2" cy="441.4" r="0.74"/><circle cx="169.2" cy="441.4" r="0.74"/><circle cx="172.4" cy="441.4" r="0.74"/><circle cx="171.9" cy="440.6" r="0.74"/><circle cx="175.9" cy="440.6" r="0.74"/><circle cx="170.8" cy="440.6" r="0.74"/><circle cx="176.7" cy="440.6" r="0.74"/><circle cx="173.8" cy="440.5" r="0.74"/><circle cx="169.7" cy="440.5" r="0.74"/><circle cx="177.8" cy="440.5" r="0.74"/><circle cx="174.8" cy="440.4" r="0.74"/><circle cx="172.8" cy="440.4" r="0.74"/><circle cx="178.3" cy="439.6" r="0.74"/><circle cx="175.3" cy="439.6" r="0.74"/><circle cx="172.4" cy="439.6" r="0.74"/><circle cx="174.4" cy="439.6" r="0.74"/><circle cx="171.3" cy="439.6" r="0.74"/><circle cx="179.4" cy="439.5" r="0.74"/><circle cx="170.2" cy="439.5" r="0.74"/><circle cx="176.3" cy="439.4" r="0.74"/><circle cx="169.3" cy="439.4" r="0.74"/><circle cx="173.2" cy="439.4" r="0.74"/><circle cx="177.2" cy="439.4" r="0.74"/><circle cx="172.8" cy="438.6" r="0.74"/><circle cx="174.9" cy="438.6" r="0.74"/><circle cx="171.8" cy="438.5" r="0.74"/><circle cx="177.7" cy="438.5" r="0.74"/><circle cx="180.9" cy="438.5" r="0.74"/><circle cx="173.7" cy="438.5" r="0.74"/><circle cx="170.7" cy="438.5" r="0.74"/><circle cx="175.7" cy="438.4" r="0.74"/><circle cx="179.7" cy="438.4" r="0.74"/><circle cx="178.8" cy="438.4" r="0.74"/><circle cx="169.8" cy="438.4" r="0.74"/><circle cx="176.9" cy="438.4" r="0.74"/><circle cx="169.4" cy="437.6" r="0.74"/><circle cx="176.2" cy="437.6" r="0.74"/><circle cx="170.3" cy="437.6" r="0.74"/><circle cx="175.4" cy="437.6" r="0.74"/><circle cx="172.4" cy="437.6" r="0.74"/><circle cx="173.4" cy="437.5" r="0.74"/><circle cx="171.3" cy="437.5" r="0.74"/><circle cx="174.4" cy="437.5" r="0.74"/><circle cx="178.4" cy="437.4" r="0.74"/><circle cx="177.2" cy="437.4" r="0.74"/><circle cx="172.9" cy="436.6" r="0.74"/><circle cx="170.7" cy="436.6" r="0.74"/><circle cx="171.8" cy="436.5" r="0.74"/><circle cx="173.8" cy="436.5" r="0.74"/><circle cx="175.9" cy="436.5" r="0.74"/><circle cx="169.7" cy="436.5" r="0.74"/><circle cx="176.9" cy="436.4" r="0.74"/><circle cx="174.8" cy="436.4" r="0.74"/><circle cx="169.3" cy="435.6" r="0.74"/><circle cx="171.4" cy="435.6" r="0.74"/><circle cx="170.4" cy="435.5" r="0.74"/><circle cx="173.2" cy="435.5" r="0.74"/><circle cx="172.3" cy="435.5" r="0.74"/><circle cx="174.4" cy="435.4" r="0.74"/><circle cx="171.7" cy="434.6" r="0.74"/><circle cx="173.8" cy="434.6" r="0.74"/><circle cx="169.7" cy="434.5" r="0.74"/><circle cx="172.7" cy="434.5" r="0.74"/><circle cx="170.9" cy="434.4" r="0.74"/><circle cx="171.3" cy="433.4" r="0.74"/><circle cx="170.2" cy="433.4" r="0.74"/><circle cx="170.8" cy="432.5" r="0.74"/><circle cx="169.9" cy="432.5" r="0.74"/><circle cx="176.7" cy="424.7" r="0.74"/><circle cx="176.5" cy="426.9" r="0.74"/><circle cx="176.5" cy="430.0" r="0.74"/><circle cx="176.6" cy="432.3" r="0.74"/><circle cx="177.0" cy="435.8" r="0.74"/><circle cx="180.6" cy="420.2" r="0.74"/><circle cx="180.7" cy="423.1" r="0.74"/><circle cx="180.9" cy="425.1" r="0.74"/><circle cx="180.5" cy="427.6" r="0.74"/><circle cx="180.8" cy="430.7" r="0.74"/><circle cx="180.4" cy="433.3" r="0.74"/><circle cx="180.6" cy="436.5" r="0.74"/><circle cx="185.0" cy="416.5" r="0.74"/><circle cx="185.4" cy="418.8" r="0.74"/><circle cx="185.4" cy="421.8" r="0.74"/><circle cx="185.8" cy="424.2" r="0.74"/><circle cx="185.4" cy="427.0" r="0.74"/><circle cx="185.8" cy="429.4" r="0.74"/><circle cx="185.7" cy="432.7" r="0.74"/><circle cx="185.4" cy="434.6" r="0.74"/><circle cx="189.6" cy="412.2" r="0.74"/><circle cx="190.1" cy="415.2" r="0.74"/><circle cx="190.3" cy="417.1" r="0.74"/><circle cx="189.6" cy="419.8" r="0.74"/><circle cx="189.6" cy="423.0" r="0.74"/><circle cx="190.3" cy="425.9" r="0.74"/><circle cx="189.6" cy="428.6" r="0.74"/><circle cx="189.7" cy="430.8" r="0.74"/><circle cx="194.3" cy="409.5" r="0.74"/><circle cx="193.6" cy="413.1" r="0.74"/><circle cx="193.8" cy="415.2" r="0.74"/><circle cx="194.1" cy="418.3" r="0.74"/><circle cx="193.5" cy="420.6" r="0.74"/><circle cx="193.9" cy="423.5" r="0.74"/><circle cx="193.7" cy="426.3" r="0.74"/><circle cx="198.5" cy="410.9" r="0.74"/><circle cx="198.0" cy="413.3" r="0.74"/><circle cx="197.8" cy="416.6" r="0.74"/><circle cx="197.6" cy="419.5" r="0.74"/><circle cx="198.4" cy="421.4" r="0.74"/><circle cx="202.6" cy="406.7" r="0.74"/><circle cx="202.4" cy="409.8" r="0.74"/><circle cx="201.9" cy="412.4" r="0.74"/><circle cx="202.3" cy="415.2" r="0.74"/><circle cx="201.8" cy="417.9" r="0.74"/><circle cx="202.6" cy="420.5" r="0.74"/><circle cx="202.1" cy="422.6" r="0.74"/><circle cx="202.1" cy="425.5" r="0.74"/><circle cx="213.8" cy="382.4" r="0.74"/><circle cx="213.8" cy="392.8" r="0.74"/><circle cx="213.8" cy="395.3" r="0.74"/><circle cx="213.8" cy="397.3" r="0.74"/><circle cx="206.0" cy="402.8" r="0.74"/><circle cx="218.8" cy="388.6" r="0.74"/><circle cx="218.4" cy="399.5" r="0.74"/><circle cx="218.4" cy="402.1" r="0.74"/><circle cx="230.9" cy="374.7" r="0.74"/><circle cx="230.9" cy="380.5" r="0.74"/><circle cx="230.9" cy="385.0" r="0.74"/><circle cx="230.9" cy="390.8" r="0.74"/><circle cx="230.9" cy="393.8" r="0.74"/><circle cx="234.8" cy="389.1" r="0.74"/><circle cx="234.8" cy="395.6" r="0.74"/><circle cx="230.9" cy="399.2" r="0.74"/><circle cx="243.3" cy="383.7" r="0.74"/><circle cx="243.3" cy="389.5" r="0.74"/><circle cx="243.3" cy="391.5" r="0.74"/><circle cx="247.2" cy="392.1" r="0.74"/><circle cx="247.2" cy="395.1" r="0.74"/><circle cx="255.5" cy="387.9" r="0.74"/><circle cx="255.5" cy="392.1" r="0.74"/><circle cx="243.3" cy="402.6" r="0.74"/><circle cx="226.1" cy="403.7" r="0.74"/><circle cx="267.5" cy="382.0" r="0.74"/><circle cx="267.5" cy="388.6" r="0.74"/><circle cx="267.5" cy="391.2" r="0.74"/><circle cx="267.5" cy="394.2" r="0.74"/><circle cx="267.5" cy="396.9" r="0.74"/><circle cx="267.5" cy="399.4" r="0.74"/><circle cx="267.5" cy="402.1" r="0.74"/><circle cx="280.1" cy="386.5" r="0.74"/><circle cx="292.2" cy="381.4" r="0.74"/><circle cx="292.2" cy="386.0" r="0.74"/><circle cx="292.2" cy="391.2" r="0.74"/><circle cx="292.2" cy="394.7" r="0.74"/><circle cx="304.9" cy="381.4" r="0.74"/><circle cx="304.9" cy="386.5" r="0.74"/><circle cx="317.0" cy="361.8" r="0.74"/><circle cx="317.0" cy="367.0" r="0.74"/><circle cx="317.0" cy="375.6" r="0.74"/><circle cx="317.0" cy="378.2" r="0.74"/><circle cx="317.0" cy="381.7" r="0.74"/><circle cx="317.0" cy="388.6" r="0.74"/><circle cx="317.0" cy="392.1" r="0.74"/><circle cx="317.0" cy="405.0" r="0.74"/><circle cx="317.0" cy="415.9" r="0.74"/><circle cx="255.3" cy="413.5" r="0.74"/><circle cx="205.8" cy="403.2" r="0.74"/><circle cx="205.8" cy="406.4" r="0.74"/><circle cx="205.8" cy="409.0" r="0.74"/><circle cx="205.8" cy="420.0" r="0.74"/><circle cx="205.8" cy="421.9" r="0.74"/><circle cx="210.3" cy="410.9" r="0.74"/><circle cx="210.3" cy="413.8" r="0.74"/><circle cx="214.2" cy="411.6" r="0.74"/><circle cx="218.7" cy="403.2" r="0.74"/><circle cx="218.7" cy="405.8" r="0.74"/><circle cx="218.7" cy="408.3" r="0.74"/><circle cx="218.7" cy="410.9" r="0.74"/><circle cx="213.6" cy="426.2" r="0.74"/><circle cx="205.8" cy="434.8" r="0.74"/><circle cx="226.5" cy="405.8" r="0.74"/><circle cx="231.0" cy="406.0" r="0.74"/><circle cx="226.5" cy="414.1" r="0.74"/><circle cx="243.3" cy="409.0" r="0.74"/><circle cx="243.3" cy="410.9" r="0.74"/><circle cx="243.3" cy="417.6" r="0.74"/><circle cx="243.3" cy="422.5" r="0.74"/></g><g fill="#1c9626"><circle cx="197.9" cy="384.6" r="2.09"/><circle cx="192.2" cy="388.6" r="2.09"/><circle cx="194.0" cy="389.1" r="2.09"/><circle cx="194.4" cy="392.1" r="2.09"/><circle cx="201.7" cy="396.4" r="2.09"/><circle cx="205.1" cy="399.2" r="2.09"/><circle cx="178.5" cy="404.3" r="2.09"/><circle cx="188.3" cy="404.3" r="2.09"/><circle cx="212.8" cy="387.9" r="2.09"/><circle cx="211.8" cy="402.1" r="2.09"/><circle cx="221.6" cy="380.1" r="2.09"/><circle cx="223.6" cy="393.4" r="2.09"/><circle cx="317.0" cy="358.8" r="2.09"/><circle cx="301.4" cy="372.7" r="2.09"/><circle cx="262.3" cy="386.5" r="2.09"/><circle cx="170.3" cy="422.3" r="2.09"/><circle cx="171.4" cy="424.6" r="2.09"/><circle cx="170.9" cy="427.5" r="2.09"/><circle cx="176.0" cy="427.5" r="2.09"/><circle cx="184.4" cy="428.6" r="2.09"/><circle cx="170.3" cy="432.6" r="2.09"/></g><g fill="#fff"><circle cx="197.9" cy="384.6" r="0.74"/><circle cx="192.2" cy="388.6" r="0.74"/><circle cx="194.0" cy="389.1" r="0.74"/><circle cx="194.4" cy="392.1" r="0.74"/><circle cx="201.7" cy="396.4" r="0.74"/><circle cx="205.1" cy="399.2" r="0.74"/><circle cx="178.5" cy="404.3" r="0.74"/><circle cx="188.3" cy="404.3" r="0.74"/><circle cx="212.8" cy="387.9" r="0.74"/><circle cx="211.8" cy="402.1" r="0.74"/><circle cx="221.6" cy="380.1" r="0.74"/><circle cx="223.6" cy="393.4" r="0.74"/><circle cx="317.0" cy="358.8" r="0.74"/><circle cx="301.4" cy="372.7" r="0.74"/><circle cx="262.3" cy="386.5" r="0.74"/><circle cx="170.3" cy="422.3" r="0.74"/><circle cx="171.4" cy="424.6" r="0.74"/><circle cx="170.9" cy="427.5" r="0.74"/><circle cx="176.0" cy="427.5" r="0.74"/><circle cx="184.4" cy="428.6" r="0.74"/><circle cx="170.3" cy="432.6" r="0.74"/></g><text x="21.3" y="30.7" font-size="10" text-anchor="end" fill="#262626" stroke="#262626" stroke-width="0.22" font-family="&quot;Liberation Sans&quot;, Arial, sans-serif"  textLength="20.3" lengthAdjust="spacingAndGlyphs">1500</text><text x="21.0" y="97.4" font-size="10" text-anchor="end" fill="#262626" stroke="#262626" stroke-width="0.22" font-family="&quot;Liberation Sans&quot;, Arial, sans-serif"  textLength="20.0" lengthAdjust="spacingAndGlyphs">1000</text><text x="21.5" y="163.6" font-size="10" text-anchor="end" fill="#262626" stroke="#262626" stroke-width="0.22" font-family="&quot;Liberation Sans&quot;, Arial, sans-serif"  textLength="15.6" lengthAdjust="spacingAndGlyphs">500</text><text x="21.6" y="10.5" font-size="10" text-anchor="end" fill="#262626" stroke="#262626" stroke-width="0.22" font-family="&quot;Liberation Sans&quot;, Arial, sans-serif" >g</text><text x="40.2" y="234.3" font-size="10" text-anchor="middle" fill="#262626" stroke="#262626" stroke-width="0.22" font-family="&quot;Liberation Sans&quot;, Arial, sans-serif" >0</text><text x="104.2" y="234.3" font-size="10" text-anchor="middle" fill="#262626" stroke="#262626" stroke-width="0.22" font-family="&quot;Liberation Sans&quot;, Arial, sans-serif" >5</text><text x="168.6" y="234.3" font-size="10" text-anchor="middle" fill="#262626" stroke="#262626" stroke-width="0.22" font-family="&quot;Liberation Sans&quot;, Arial, sans-serif" >10</text><text x="232.6" y="234.3" font-size="10" text-anchor="middle" fill="#262626" stroke="#262626" stroke-width="0.22" font-family="&quot;Liberation Sans&quot;, Arial, sans-serif" >15</text><text x="296.8" y="234.3" font-size="10" text-anchor="middle" fill="#262626" stroke="#262626" stroke-width="0.22" font-family="&quot;Liberation Sans&quot;, Arial, sans-serif" >20</text><text x="383.4" y="234.4" font-size="10" text-anchor="end" fill="#262626" stroke="#262626" stroke-width="0.22" font-family="&quot;Liberation Sans&quot;, Arial, sans-serif"  textLength="51.6" lengthAdjust="spacingAndGlyphs">age in years</text><text x="21.8" y="252.6" font-size="10" text-anchor="end" fill="#262626" stroke="#262626" stroke-width="0.22" font-family="&quot;Liberation Sans&quot;, Arial, sans-serif" >%</text><text x="21.4" y="293.1" font-size="10" text-anchor="end" fill="#262626" stroke="#262626" stroke-width="0.22" font-family="&quot;Liberation Sans&quot;, Arial, sans-serif" >100</text><text x="21.4" y="333.35" font-size="10" text-anchor="end" fill="#262626" stroke="#262626" stroke-width="0.22" font-family="&quot;Liberation Sans&quot;, Arial, sans-serif" >80</text><text x="21.4" y="373.6" font-size="10" text-anchor="end" fill="#262626" stroke="#262626" stroke-width="0.22" font-family="&quot;Liberation Sans&quot;, Arial, sans-serif" >60</text><text x="21.4" y="413.85" font-size="10" text-anchor="end" fill="#262626" stroke="#262626" stroke-width="0.22" font-family="&quot;Liberation Sans&quot;, Arial, sans-serif" >40</text><text x="21.4" y="454.1" font-size="10" text-anchor="end" fill="#262626" stroke="#262626" stroke-width="0.22" font-family="&quot;Liberation Sans&quot;, Arial, sans-serif" >20</text><text x="314.6" y="98.9" font-size="10" text-anchor="start" fill="#3050ad" stroke="#3050ad" stroke-width="0.22" font-family="&quot;Liberation Sans&quot;, Arial, sans-serif" font-style="italic" textLength="34.6" lengthAdjust="spacingAndGlyphs">humans</text><text x="233.4" y="155.4" font-size="10" text-anchor="start" fill="#3a9c3a" stroke="#3a9c3a" stroke-width="0.22" font-family="&quot;Liberation Sans&quot;, Arial, sans-serif" font-style="italic" textLength="54.6" lengthAdjust="spacingAndGlyphs">chimpanzees</text><text x="323.5" y="372.5" font-size="8" text-anchor="start" fill="#262626" stroke="#262626" stroke-width="0.22" font-family="&quot;Liberation Sans&quot;, Arial, sans-serif"  textLength="22.4" lengthAdjust="spacingAndGlyphs">100 %</text><text x="323.5" y="439.6" font-size="8.4" text-anchor="start" fill="#262626" stroke="#262626" stroke-width="0.22" font-family="&quot;Liberation Sans&quot;, Arial, sans-serif"  textLength="17.6" lengthAdjust="spacingAndGlyphs">30 %</text><text x="323.5" y="451.3" font-size="8.4" text-anchor="start" fill="#262626" stroke="#262626" stroke-width="0.22" font-family="&quot;Liberation Sans&quot;, Arial, sans-serif"  textLength="17.2" lengthAdjust="spacingAndGlyphs">3 yrs</text><text x="162.9" y="451.6" font-size="8.6" text-anchor="end" fill="#262626" stroke="#262626" stroke-width="0.22" font-family="&quot;Liberation Sans&quot;, Arial, sans-serif" >0</text></svg>
</body></html>
